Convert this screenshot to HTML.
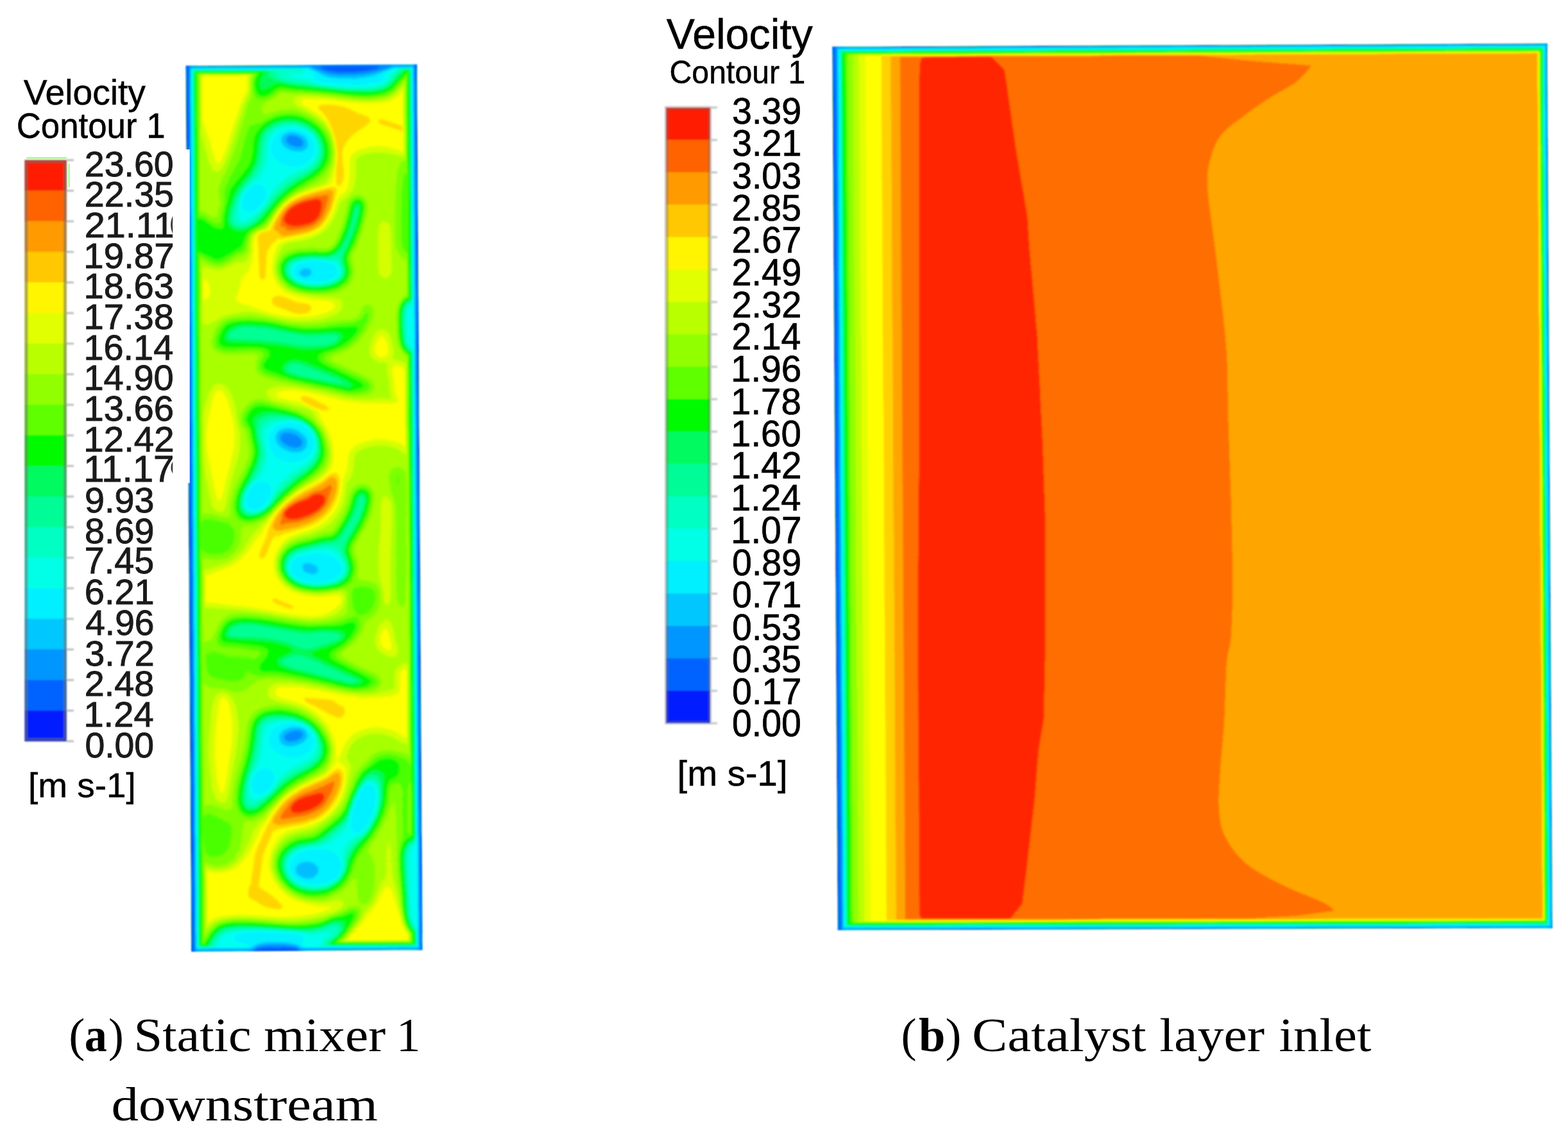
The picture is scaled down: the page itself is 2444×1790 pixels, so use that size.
<!DOCTYPE html>
<html lang="en"><head><meta charset="utf-8"><title>Velocity contours</title>
<style>
html,body{margin:0;padding:0;background:#fff;}
body{width:2444px;height:1790px;overflow:hidden;font-family:"Liberation Sans",sans-serif;}
svg{display:block;}
</style></head>
<body>
<svg width="2444" height="1790" viewBox="0 0 2444 1790">
<defs>
<clipPath id="lclip"><polygon points="289.3,102.3 650.3,100.2 658.8,1481.5 298.0,1484.0"/></clipPath>
<filter id="lcmap" filterUnits="userSpaceOnUse" x="260" y="70" width="430" height="1450" color-interpolation-filters="sRGB"><feComponentTransfer><feFuncR type="discrete" tableValues="0.0000 0.0000 0.0000 0.0000 0.0000 0.0000 0.0000 0.0000 0.0000 0.0000 0.2941 0.4902 0.6588 0.8314 1.0000 1.0000 1.0000 1.0000 1.0000"/><feFuncG type="discrete" tableValues="0.1176 0.3529 0.5490 0.7451 0.9490 1.0000 1.0000 1.0000 0.9882 0.9804 1.0000 1.0000 1.0000 1.0000 1.0000 0.8353 0.6471 0.4235 0.1412"/><feFuncB type="discrete" tableValues="1.0000 1.0000 1.0000 1.0000 1.0000 0.9490 0.7765 0.5882 0.3529 0.0000 0.0000 0.0000 0.0000 0.0000 0.0000 0.0000 0.0000 0.0000 0.0000"/></feComponentTransfer><feGaussianBlur stdDeviation="1.5"/></filter>
<filter id="ledge" filterUnits="userSpaceOnUse" x="260" y="70" width="430" height="1450" color-interpolation-filters="sRGB"><feGaussianBlur stdDeviation="1.1"/></filter>
<filter id="lb7" filterUnits="userSpaceOnUse" x="260" y="70" width="430" height="1450" color-interpolation-filters="sRGB"><feGaussianBlur stdDeviation="7"/></filter>
<filter id="lb8" filterUnits="userSpaceOnUse" x="260" y="70" width="430" height="1450" color-interpolation-filters="sRGB"><feGaussianBlur stdDeviation="8"/></filter>
<filter id="lb9" filterUnits="userSpaceOnUse" x="260" y="70" width="430" height="1450" color-interpolation-filters="sRGB"><feGaussianBlur stdDeviation="9"/></filter>
<filter id="lb11" filterUnits="userSpaceOnUse" x="260" y="70" width="430" height="1450" color-interpolation-filters="sRGB"><feGaussianBlur stdDeviation="11"/></filter>
<filter id="lb6" filterUnits="userSpaceOnUse" x="260" y="70" width="430" height="1450" color-interpolation-filters="sRGB"><feGaussianBlur stdDeviation="6"/></filter>
<filter id="lb4" filterUnits="userSpaceOnUse" x="260" y="70" width="430" height="1450" color-interpolation-filters="sRGB"><feGaussianBlur stdDeviation="4"/></filter>
<filter id="lb2_5" filterUnits="userSpaceOnUse" x="260" y="70" width="430" height="1450" color-interpolation-filters="sRGB"><feGaussianBlur stdDeviation="2.5"/></filter>
<filter id="lb3" filterUnits="userSpaceOnUse" x="260" y="70" width="430" height="1450" color-interpolation-filters="sRGB"><feGaussianBlur stdDeviation="3"/></filter>
<filter id="lb5" filterUnits="userSpaceOnUse" x="260" y="70" width="430" height="1450" color-interpolation-filters="sRGB"><feGaussianBlur stdDeviation="5"/></filter>
<filter id="lb10" filterUnits="userSpaceOnUse" x="260" y="70" width="430" height="1450" color-interpolation-filters="sRGB"><feGaussianBlur stdDeviation="10"/></filter>
<linearGradient id="lwl" gradientUnits="userSpaceOnUse" x1="298.00" y1="1484.00" x2="332.00" y2="1483.79"><stop offset="0.0000" stop-color="#0a0a0a"/><stop offset="0.1324" stop-color="#1a1a1a"/><stop offset="0.2500" stop-color="#3d3d3d"/><stop offset="0.3382" stop-color="#575757"/><stop offset="0.4265" stop-color="#787878"/><stop offset="0.5588" stop-color="#999999"/><stop offset="0.7353" stop-color="#b8b8b8"/><stop offset="0.9412" stop-color="#ffffff"/><stop offset="1.0000" stop-color="#ffffff"/></linearGradient>
<linearGradient id="lwt" gradientUnits="userSpaceOnUse" x1="289.30" y1="102.30" x2="289.43" y2="124.30"><stop offset="0.0000" stop-color="#1f1f1f"/><stop offset="0.1136" stop-color="#292929"/><stop offset="0.2455" stop-color="#3d3d3d"/><stop offset="0.3636" stop-color="#5c5c5c"/><stop offset="0.4545" stop-color="#787878"/><stop offset="0.5909" stop-color="#a1a1a1"/><stop offset="0.7727" stop-color="#c7c7c7"/><stop offset="1.0000" stop-color="#ffffff"/></linearGradient>
<linearGradient id="lwr" gradientUnits="userSpaceOnUse" x1="650.30" y1="100.20" x2="616.30" y2="100.41"><stop offset="0.0000" stop-color="#0a0a0a"/><stop offset="0.1029" stop-color="#1a1a1a"/><stop offset="0.2059" stop-color="#3d3d3d"/><stop offset="0.2941" stop-color="#575757"/><stop offset="0.3824" stop-color="#787878"/><stop offset="0.5000" stop-color="#999999"/><stop offset="0.6471" stop-color="#b8b8b8"/><stop offset="0.8235" stop-color="#ffffff"/><stop offset="1.0000" stop-color="#ffffff"/></linearGradient>
<linearGradient id="lwb" gradientUnits="userSpaceOnUse" x1="658.80" y1="1481.50" x2="658.65" y2="1459.50"><stop offset="0.0000" stop-color="#1f1f1f"/><stop offset="0.1136" stop-color="#292929"/><stop offset="0.2455" stop-color="#3d3d3d"/><stop offset="0.3636" stop-color="#5c5c5c"/><stop offset="0.4545" stop-color="#787878"/><stop offset="0.5909" stop-color="#a1a1a1"/><stop offset="0.7727" stop-color="#c7c7c7"/><stop offset="1.0000" stop-color="#ffffff"/></linearGradient>
<clipPath id="rclip"><polygon points="1297.0,72.5 2412.0,67.5 2420.0,1447.5 1305.5,1450.5"/></clipPath>
<filter id="rcmap" filterUnits="userSpaceOnUse" x="1270" y="40" width="1174" height="1440" color-interpolation-filters="sRGB"><feComponentTransfer><feFuncR type="discrete" tableValues="0.0000 0.0000 0.0000 0.0000 0.0000 0.0000 0.0000 0.0000 0.0000 0.0000 0.3725 0.5686 0.7255 0.8824 1.0000 1.0000 1.0000 1.0000 1.0000"/><feFuncG type="discrete" tableValues="0.1098 0.3922 0.5882 0.7843 0.9412 1.0000 1.0000 0.9882 0.9804 0.9804 1.0000 1.0000 1.0000 1.0000 1.0000 0.8235 0.6471 0.4314 0.1490"/><feFuncB type="discrete" tableValues="1.0000 1.0000 1.0000 1.0000 1.0000 0.9020 0.7647 0.5882 0.3725 0.0000 0.0000 0.0000 0.0000 0.0000 0.0000 0.0000 0.0000 0.0000 0.0000"/></feComponentTransfer><feGaussianBlur stdDeviation="1.3"/></filter>
<filter id="redge" filterUnits="userSpaceOnUse" x="1270" y="40" width="1174" height="1440" color-interpolation-filters="sRGB"><feGaussianBlur stdDeviation="1.1"/></filter>
<linearGradient id="rwl" gradientUnits="userSpaceOnUse" x1="1305.50" y1="1450.50" x2="1455.50" y2="1449.57"><stop offset="0.0000" stop-color="#0f0f0f"/><stop offset="0.0400" stop-color="#1c1c1c"/><stop offset="0.0533" stop-color="#292929"/><stop offset="0.0667" stop-color="#3d3d3d"/><stop offset="0.0867" stop-color="#575757"/><stop offset="0.1200" stop-color="#808080"/><stop offset="0.1733" stop-color="#999999"/><stop offset="0.2467" stop-color="#a8a8a8"/><stop offset="0.3067" stop-color="#b5b5b5"/><stop offset="0.3467" stop-color="#bcbcbc"/><stop offset="0.5067" stop-color="#c9c9c9"/><stop offset="0.6133" stop-color="#d7d7d7"/><stop offset="0.7000" stop-color="#e4e4e4"/><stop offset="0.8533" stop-color="#f1f1f1"/><stop offset="0.9000" stop-color="#ffffff"/><stop offset="1.0000" stop-color="#ffffff"/></linearGradient>
<linearGradient id="rwt" gradientUnits="userSpaceOnUse" x1="1297.00" y1="72.50" x2="1297.12" y2="98.50"><stop offset="0.0000" stop-color="#141414"/><stop offset="0.0962" stop-color="#292929"/><stop offset="0.1923" stop-color="#3d3d3d"/><stop offset="0.2885" stop-color="#5c5c5c"/><stop offset="0.3846" stop-color="#808080"/><stop offset="0.4808" stop-color="#a8a8a8"/><stop offset="0.5769" stop-color="#c9c9c9"/><stop offset="0.6538" stop-color="#e6e6e6"/><stop offset="0.7115" stop-color="#ffffff"/><stop offset="1.0000" stop-color="#ffffff"/></linearGradient>
<linearGradient id="rwr" gradientUnits="userSpaceOnUse" x1="2412.00" y1="67.50" x2="2386.00" y2="67.65"><stop offset="0.0000" stop-color="#141414"/><stop offset="0.0962" stop-color="#292929"/><stop offset="0.1923" stop-color="#3d3d3d"/><stop offset="0.2885" stop-color="#5c5c5c"/><stop offset="0.3846" stop-color="#808080"/><stop offset="0.4808" stop-color="#a8a8a8"/><stop offset="0.5769" stop-color="#c9c9c9"/><stop offset="0.6538" stop-color="#e6e6e6"/><stop offset="0.7115" stop-color="#ffffff"/><stop offset="1.0000" stop-color="#ffffff"/></linearGradient>
<linearGradient id="rwb" gradientUnits="userSpaceOnUse" x1="2420.00" y1="1447.50" x2="2419.93" y2="1421.50"><stop offset="0.0000" stop-color="#141414"/><stop offset="0.0962" stop-color="#292929"/><stop offset="0.1923" stop-color="#3d3d3d"/><stop offset="0.2885" stop-color="#5c5c5c"/><stop offset="0.3846" stop-color="#808080"/><stop offset="0.4808" stop-color="#a8a8a8"/><stop offset="0.5769" stop-color="#c9c9c9"/><stop offset="0.6538" stop-color="#e6e6e6"/><stop offset="0.7115" stop-color="#ffffff"/><stop offset="1.0000" stop-color="#ffffff"/></linearGradient>
<filter id="soft1" x="-5%" y="-5%" width="110%" height="110%"><feGaussianBlur stdDeviation="0.9"/></filter>
<clipPath id="fragclip"><rect x="262" y="320" width="7.3" height="440"/></clipPath>
</defs>
<rect width="2444" height="1790" fill="#fff"/>
<g filter="url(#ledge)"><g clip-path="url(#lclip)"><g filter="url(#lcmap)" style="isolation:isolate"><rect x="260" y="70" width="430" height="1450" fill="#acacac"/><g filter="url(#lb7)"><path d="M300.5,110.5C310.0,108.2 335.9,111.4 354.0,112.3C372.1,113.1 403.5,110.0 409.2,115.7C415.0,121.5 394.3,137.3 388.5,146.8C382.8,156.2 378.4,164.0 374.7,172.6C371.0,181.3 369.0,189.9 366.1,198.5C363.2,207.1 360.3,215.8 357.5,224.4C354.6,233.0 351.7,243.1 348.8,250.3C346.0,257.4 342.8,267.5 340.2,267.5C337.6,267.5 335.6,257.4 333.3,250.3C331.0,243.1 329.0,233.0 326.4,224.4C323.8,215.8 320.7,207.1 317.8,198.5C314.9,189.9 311.7,181.3 309.2,172.6C306.6,164.0 304.3,154.5 302.3,146.8C300.2,139.0 297.4,132.1 297.1,126.1C296.8,120.0 291.0,112.8 300.5,110.5Z" fill="#c6c6c6"/><path d="M461.0,151.9C465.8,148.2 492.6,149.6 509.3,150.2C525.9,150.8 543.8,155.1 561.0,155.4C578.3,155.7 599.0,159.1 612.8,151.9C626.6,144.7 637.5,107.4 643.8,112.3C650.1,117.1 650.1,159.7 650.7,181.3C651.3,202.8 653.6,233.0 647.3,241.6C640.9,250.3 622.8,235.0 612.8,233.0C602.7,231.0 595.5,229.3 586.9,229.6C578.3,229.8 567.6,232.4 561.0,234.7C554.4,237.0 549.5,237.9 547.2,243.4C544.9,248.8 547.8,259.2 547.2,267.5C546.6,275.8 546.3,286.8 543.8,293.4C541.2,300.0 536.6,307.8 531.7,307.2C526.8,306.6 515.9,299.4 514.4,289.9C513.0,280.4 522.2,262.6 523.1,250.3C523.9,237.9 522.5,225.5 519.6,215.8C516.7,206.0 512.4,198.8 505.8,191.6C499.2,184.4 487.4,179.2 479.9,172.6C472.5,166.0 456.1,155.7 461.0,151.9Z" fill="#c6c6c6"/></g><g filter="url(#lb8)"><path d="M388.5,151.9C392.0,149.9 404.0,152.8 405.8,160.6C407.5,168.3 401.7,183.6 398.9,198.5C396.0,213.5 392.5,235.9 388.5,250.3C384.5,264.6 379.9,274.7 374.7,284.8C369.5,294.8 362.9,307.8 357.5,310.6C352.0,313.5 342.5,309.2 341.9,302.0C341.4,294.8 349.7,279.0 354.0,267.5C358.3,256.0 363.8,244.5 367.8,233.0C371.8,221.5 375.3,208.6 378.2,198.5C381.0,188.4 383.3,180.4 385.1,172.6C386.8,164.9 385.1,153.9 388.5,151.9Z" fill="#929292"/></g><g filter="url(#lb7)"><path d="M395.4,115.7C399.1,111.1 410.1,110.0 416.1,112.3C422.1,114.6 429.9,123.8 431.6,129.5C433.4,135.3 430.8,142.7 426.5,146.8C422.1,150.8 411.2,154.8 405.8,153.7C400.3,152.5 395.4,146.2 393.7,139.9C392.0,133.5 391.7,120.3 395.4,115.7Z" fill="#777777"/></g><g filter="url(#lb9)"><path d="M302.3,333.1C307.7,326.2 318.9,340.0 328.1,346.9C337.3,353.8 347.4,369.3 357.5,374.5C367.5,379.6 383.3,375.6 388.5,377.9C393.7,380.2 404.0,386.5 388.5,388.3C373.0,390.0 309.7,397.5 295.4,388.3C281.0,379.1 296.8,340.0 302.3,333.1Z" fill="#777777"/></g><g filter="url(#lb8)"><path d="M623.1,267.5C626.3,245.9 635.5,238.8 640.4,258.9C645.2,279.0 655.6,366.7 652.4,388.3C649.3,409.8 626.3,408.4 621.4,388.3C616.5,368.1 619.9,289.1 623.1,267.5Z" fill="#8d8d8d"/></g><g filter="url(#lb9)"><path d="M419.6,101.9C454.1,98.7 596.9,98.2 630.0,101.9C663.1,105.6 621.4,118.3 617.9,124.3C614.5,130.4 614.5,134.7 609.3,138.1C604.1,141.6 594.9,143.7 586.9,145.0C578.8,146.3 569.6,146.2 561.0,145.9C552.4,145.6 543.8,144.2 535.1,143.3C526.5,142.4 517.9,141.1 509.3,140.2C500.6,139.3 492.0,138.9 483.4,138.1C474.8,137.3 465.3,136.5 457.5,135.5C449.7,134.5 442.6,134.5 436.8,132.1C431.1,129.6 425.9,125.9 423.0,120.9C420.1,115.8 385.1,105.1 419.6,101.9Z" fill="#4c4c4c"/></g><g filter="url(#lb11)"><path d="M404.0,207.1C406.6,201.7 410.6,197.1 416.1,193.3C421.6,189.6 429.6,186.3 436.8,184.7C444.0,183.1 452.3,183.0 459.2,183.8C466.1,184.7 472.2,186.9 478.2,189.9C484.2,192.9 490.9,197.1 495.5,202.0C500.1,206.8 503.5,212.9 505.8,219.2C508.1,225.5 509.5,233.6 509.3,239.9C509.0,246.2 507.0,252.1 504.1,257.2C501.2,262.2 497.2,266.1 492.0,270.1C486.8,274.1 479.1,277.7 473.0,281.3C467.0,284.9 461.0,287.9 455.8,291.7C450.6,295.4 446.6,299.1 442.0,303.7C437.4,308.3 432.8,313.8 428.2,319.3C423.6,324.7 419.0,331.0 414.4,336.5C409.8,342.0 405.2,347.4 400.6,352.0C396.0,356.6 392.2,361.2 386.8,364.1C381.3,367.0 373.0,369.9 367.8,369.3C362.6,368.7 358.3,365.5 355.7,360.7C353.1,355.8 352.0,346.9 352.3,340.0C352.6,333.1 354.9,326.2 357.5,319.3C360.0,312.4 364.1,304.9 367.8,298.6C371.5,292.2 375.9,287.1 379.9,281.3C383.9,275.6 388.8,269.8 392.0,264.1C395.1,258.3 397.4,253.1 398.9,246.8C400.3,240.5 399.7,232.7 400.6,226.1C401.4,219.5 401.4,212.6 404.0,207.1Z" fill="#4c4c4c"/></g><g filter="url(#lb6)"><ellipse cx="457.5" cy="229.6" rx="34.5" ry="29.3" transform="rotate(0 457.5 229.6)" fill="#393939"/><ellipse cx="395.4" cy="308.9" rx="16.4" ry="24.2" transform="rotate(35 395.4 308.9)" fill="#393939"/><ellipse cx="543.8" cy="120.9" rx="58.7" ry="12.1" transform="rotate(0 543.8 120.9)" fill="#393939"/></g><g filter="url(#lb4)"><ellipse cx="459.2" cy="220.1" rx="18.1" ry="10.4" transform="rotate(20 459.2 220.1)" fill="#222222"/><path d="M474.8,98.5C496.3,96.2 607.0,97.0 630.0,98.5C653.0,99.9 621.4,104.5 612.8,107.1C604.1,109.7 591.2,112.4 578.3,114.0C565.3,115.6 548.1,116.9 535.1,116.6C522.2,116.3 510.7,115.3 500.6,112.3C490.6,109.2 453.2,100.8 474.8,98.5Z" fill="#141414"/></g><g filter="url(#lb2_5)"><path d="M495.5,167.5C496.3,165.4 502.6,164.0 509.3,164.0C515.9,164.0 527.1,165.2 535.1,167.5C543.2,169.8 550.7,174.8 557.6,177.8C564.5,180.8 574.5,182.7 576.5,185.6C578.5,188.4 573.4,191.7 569.6,195.1C565.9,198.4 559.0,201.4 554.1,205.4C549.2,209.4 543.8,214.6 540.3,219.2C536.9,223.8 534.6,227.8 533.4,233.0C532.3,238.2 533.1,244.5 533.4,250.3C533.7,256.0 535.1,262.3 535.1,267.5C535.1,272.7 534.8,277.6 533.4,281.3C532.0,285.0 528.2,292.2 526.5,289.9C524.8,287.6 523.3,275.6 523.1,267.5C522.8,259.5 525.1,250.3 524.8,241.6C524.5,233.0 523.3,224.1 521.3,215.8C519.3,207.4 515.6,198.2 512.7,191.6C509.8,185.0 507.0,180.1 504.1,176.1C501.2,172.1 494.6,169.5 495.5,167.5Z" fill="#d2d2d2"/><path d="M592.1,189.0C595.5,190.2 606.1,193.3 612.8,195.9C619.4,198.5 628.0,199.5 631.7,204.5C635.5,209.6 634.6,222.5 635.2,226.1" fill="none" stroke="#d2d2d2" stroke-width="5.2" stroke-linecap="round" stroke-linejoin="round"/></g><g filter="url(#lb6)"><path d="M416.1,374.5C414.1,369.3 423.6,350.9 428.2,341.7C432.8,332.5 437.7,325.1 443.7,319.3C449.7,313.4 457.5,309.6 464.4,306.3C471.3,303.0 477.9,301.6 485.1,299.4C492.3,297.3 501.5,294.4 507.5,293.4C513.6,292.4 519.0,290.2 521.3,293.4C523.6,296.5 522.5,305.7 521.3,312.4C520.2,319.0 517.6,326.4 514.4,333.1C511.3,339.7 507.2,347.1 502.4,352.0C497.5,356.9 491.4,359.8 485.1,362.4C478.8,365.0 471.9,365.8 464.4,367.6C456.9,369.3 448.3,371.6 440.3,372.7C432.2,373.9 418.1,379.6 416.1,374.5Z" fill="#e6e6e6"/></g><g filter="url(#lb3)"><path d="M443.7,338.2C445.0,334.5 449.2,328.7 453.2,325.3C457.2,321.8 462.8,319.5 467.9,317.5C472.9,315.5 478.1,314.2 483.4,313.2C488.7,312.2 496.9,309.9 499.8,311.5C502.6,313.1 501.2,318.5 500.6,322.7C500.1,326.9 498.6,332.6 496.3,336.5C494.0,340.4 490.7,343.7 486.8,346.0C482.9,348.3 477.9,349.3 473.0,350.3C468.1,351.3 462.1,352.5 457.5,352.0C452.9,351.6 447.7,350.0 445.4,347.7C443.1,345.4 442.4,342.0 443.7,338.2Z" fill="#ffffff"/></g><g filter="url(#lb9)"><path d="M309.6,421.4C321.2,407.9 364.8,410.2 379.2,413.0C393.6,415.8 395.0,427.0 395.9,438.1C396.9,449.2 392.2,470.6 384.8,479.9C377.4,489.1 363.9,491.5 351.4,493.8C338.9,496.1 316.6,505.9 309.6,493.8C302.7,481.7 298.0,434.8 309.6,421.4Z" fill="#bababa"/></g><g filter="url(#lb7)"><path d="M388.5,363.1C396.0,357.6 429.6,359.1 436.8,363.1C444.0,367.1 433.1,378.9 431.6,387.3C430.2,395.6 427.9,404.5 428.2,413.1C428.5,421.8 429.9,432.4 433.4,439.0C436.8,445.6 442.0,449.4 448.9,452.8C455.8,456.3 464.7,457.4 474.8,459.7C484.8,462.0 500.1,464.0 509.3,466.6C518.5,469.2 529.1,471.8 530.0,475.2C530.8,478.7 520.8,484.1 514.4,487.3C508.1,490.5 500.1,492.5 492.0,494.2C484.0,495.9 474.8,497.4 466.1,497.7C457.5,497.9 448.9,497.4 440.3,495.9C431.6,494.5 423.0,492.2 414.4,489.0C405.8,485.9 395.1,480.7 388.5,477.0C381.9,473.2 375.9,471.5 374.7,466.6C373.6,461.7 379.3,455.1 381.6,447.6C383.9,440.2 386.8,430.4 388.5,421.8C390.2,413.1 392.0,405.7 392.0,395.9C392.0,386.1 381.0,368.6 388.5,363.1Z" fill="#c6c6c6"/></g><g filter="url(#lb5)"><path d="M305.7,435.6C308.0,432.1 316.6,438.4 319.5,442.5C322.4,446.5 325.3,456.3 323.0,459.7C320.7,463.2 308.6,467.2 305.7,463.2C302.8,459.1 303.4,439.0 305.7,435.6Z" fill="#c6c6c6"/></g><g filter="url(#lb6)"><path d="M600.7,352.7C600.7,358.5 600.7,375.2 600.7,387.3C600.7,399.3 600.7,418.9 600.7,425.2" fill="none" stroke="#c6c6c6" stroke-width="8.6" stroke-linecap="round" stroke-linejoin="round"/><path d="M595.5,516.6C598.7,516.6 602.1,527.8 604.1,533.9C606.1,539.9 609.0,548.5 607.6,552.9C606.1,557.2 599.8,560.0 595.5,559.8C591.2,559.5 583.4,555.4 581.7,551.1C580.0,546.8 582.9,539.6 585.2,533.9C587.5,528.1 592.3,516.6 595.5,516.6Z" fill="#c6c6c6"/><path d="M609.3,570.1C611.0,565.8 618.5,565.8 623.1,568.4C627.7,571.0 634.3,578.4 636.9,585.6C639.5,592.8 639.8,604.3 638.6,611.5C637.5,618.7 633.7,627.3 630.0,628.8C626.3,630.2 619.1,625.9 616.2,620.1C613.3,614.4 613.9,602.6 612.8,594.3C611.6,585.9 607.6,574.4 609.3,570.1Z" fill="#c6c6c6"/></g><g filter="url(#lb7)"><path d="M423.0,611.5C428.8,609.2 446.0,606.3 457.5,606.3C469.0,606.3 480.5,609.2 492.0,611.5C503.5,613.8 515.0,617.3 526.5,620.1C538.0,623.0 549.5,626.7 561.0,628.8C572.5,630.8 582.6,631.6 595.5,632.2C608.4,632.8 631.4,627.0 638.6,632.2C645.8,637.4 655.9,658.1 638.6,663.3C621.4,668.4 555.3,666.1 535.1,663.3C515.0,660.4 526.5,651.2 517.9,646.0C509.3,640.8 494.9,635.7 483.4,632.2C471.9,628.8 458.9,627.3 448.9,625.3C438.8,623.3 427.3,622.4 423.0,620.1C418.7,617.8 417.3,613.8 423.0,611.5Z" fill="#c6c6c6"/></g><g filter="url(#lb6)"><path d="M341.9,615.0C341.9,623.0 341.9,655.2 341.9,663.3" fill="none" stroke="#c6c6c6" stroke-width="6.9" stroke-linecap="round" stroke-linejoin="round"/></g><g filter="url(#lb8)"><path d="M302.3,359.6C316.1,354.2 372.4,356.2 385.1,359.6C397.7,363.1 381.3,374.6 378.2,380.4C375.0,386.1 369.8,390.1 366.1,394.2C362.3,398.2 359.8,401.1 355.7,404.5C351.7,408.0 346.8,414.1 341.9,414.9C337.0,415.6 331.0,411.7 326.4,408.8C321.8,405.9 318.4,400.3 314.3,397.6C310.3,394.9 304.3,398.8 302.3,392.4C300.2,386.1 288.5,365.1 302.3,359.6Z" fill="#808080"/></g><g filter="url(#lb7)"><path d="M333.3,535.6C333.9,530.1 338.5,517.5 341.9,511.5C345.4,505.4 346.2,501.7 354.0,499.4C361.8,497.1 377.0,497.4 388.5,497.7C400.0,497.9 411.5,499.4 423.0,501.1C434.5,502.8 446.0,506.6 457.5,508.0C469.0,509.4 480.5,510.3 492.0,509.7C503.5,509.2 515.0,506.3 526.5,504.6C538.0,502.8 553.5,504.6 561.0,499.4C568.5,494.2 568.5,474.9 571.4,473.5C574.2,472.1 580.0,482.7 578.3,490.8C576.5,498.8 566.8,513.8 561.0,521.8C555.3,529.9 550.9,534.5 543.8,539.1C536.6,543.7 526.5,546.5 517.9,549.4C509.3,552.3 502.1,555.7 492.0,556.3C481.9,556.9 469.0,554.0 457.5,552.9C446.0,551.7 433.1,550.6 423.0,549.4C412.9,548.3 408.6,546.2 397.1,546.0C385.6,545.7 363.8,548.0 354.0,547.7C344.2,547.4 341.9,546.2 338.5,544.2C335.0,542.2 332.7,541.1 333.3,535.6Z" fill="#808080"/><path d="M402.3,577.0C401.4,572.4 404.3,560.9 409.2,556.3C414.1,551.7 423.6,550.0 431.6,549.4C439.7,548.8 447.4,551.7 457.5,552.9C467.6,554.0 481.9,553.7 492.0,556.3C502.1,558.9 509.3,564.4 517.9,568.4C526.5,572.4 535.1,576.4 543.8,580.5C552.4,584.5 563.3,588.8 569.6,592.5C576.0,596.3 581.7,599.7 581.7,602.9C581.7,606.0 576.0,610.1 569.6,611.5C563.3,612.9 553.8,612.7 543.8,611.5C533.7,610.4 520.8,606.9 509.3,604.6C497.8,602.3 486.3,600.0 474.8,597.7C463.3,595.4 450.3,593.1 440.3,590.8C430.2,588.5 420.7,586.2 414.4,583.9C408.1,581.6 403.2,581.6 402.3,577.0Z" fill="#808080"/><path d="M381.6,663.3C368.1,658.1 386.2,638.2 390.2,632.2C394.3,626.2 400.3,627.0 405.8,627.0C411.2,627.0 417.3,630.2 423.0,632.2C428.8,634.2 434.5,636.8 440.3,639.1C446.0,641.4 452.3,642.0 457.5,646.0C462.7,650.0 484.0,660.4 471.3,663.3C458.7,666.1 395.1,668.4 381.6,663.3Z" fill="#808080"/></g><g filter="url(#lb5)"><path d="M350.6,530.4C348.5,527.3 354.0,517.2 359.2,513.2C364.4,509.2 372.4,507.1 381.6,506.3C390.8,505.4 404.6,506.9 414.4,508.0C424.2,509.2 431.6,511.5 440.3,513.2C448.9,514.9 457.5,517.2 466.1,518.4C474.8,519.5 483.4,520.1 492.0,520.1C500.6,520.1 511.0,518.1 517.9,518.4C524.8,518.6 532.0,519.2 533.4,521.8C534.8,524.4 530.5,530.7 526.5,533.9C522.5,537.0 517.9,539.3 509.3,540.8C500.6,542.2 486.3,543.1 474.8,542.5C463.3,541.9 451.8,538.8 440.3,537.3C428.8,535.9 417.3,534.7 405.8,533.9C394.3,533.0 380.5,532.7 371.3,532.2C362.1,531.6 352.6,533.6 350.6,530.4Z" fill="#656565"/><path d="M440.3,575.3C440.3,571.5 448.3,564.6 454.1,563.2C459.8,561.8 467.0,564.4 474.8,566.7C482.5,569.0 492.0,573.6 500.6,577.0C509.3,580.5 518.5,583.6 526.5,587.4C534.6,591.1 545.5,596.3 548.9,599.4C552.4,602.6 550.9,606.0 547.2,606.3C543.5,606.6 534.3,602.9 526.5,601.2C518.7,599.4 509.3,597.7 500.6,596.0C492.0,594.3 482.5,592.5 474.8,590.8C467.0,589.1 459.8,588.2 454.1,585.6C448.3,583.0 440.3,579.0 440.3,575.3Z" fill="#656565"/></g><g filter="url(#lb6)"><path d="M628.3,473.5C633.2,466.6 649.8,453.7 654.2,466.6C658.5,479.5 658.2,538.5 654.2,551.1C650.1,563.8 634.9,549.7 630.0,542.5C625.1,535.3 625.1,519.5 624.8,508.0C624.5,496.5 623.4,480.4 628.3,473.5Z" fill="#4c4c4c"/></g><g filter="url(#lb7)"><path d="M557.6,318.2C556.7,322.6 554.7,335.5 552.4,344.1C550.1,352.7 546.9,362.2 543.8,370.0C540.6,377.8 536.9,385.0 533.4,390.7C530.0,396.5 524.8,402.2 523.1,404.5" fill="none" stroke="#5a5a5a" stroke-width="17.3" stroke-linecap="round" stroke-linejoin="round"/></g><g filter="url(#lb9)"><path d="M440.3,411.4C442.3,407.4 447.2,403.4 452.3,401.1C457.5,398.8 463.3,398.2 471.3,397.6C479.4,397.0 491.4,397.0 500.6,397.6C509.8,398.2 519.9,398.5 526.5,401.1C533.1,403.6 537.7,408.8 540.3,413.1C542.9,417.4 542.9,422.6 542.0,426.9C541.2,431.2 539.2,435.7 535.1,439.0C531.1,442.3 525.1,444.9 517.9,446.8C510.7,448.6 500.6,450.2 492.0,450.2C483.4,450.2 473.3,448.8 466.1,446.8C458.9,444.8 453.2,441.7 448.9,438.1C444.6,434.5 441.7,429.7 440.3,425.2C438.8,420.7 438.2,415.4 440.3,411.4Z" fill="#4c4c4c"/></g><g filter="url(#lb6)"><ellipse cx="492.0" cy="423.5" rx="36.2" ry="18.1" transform="rotate(0 492.0 423.5)" fill="#393939"/></g><g filter="url(#lb3)"><ellipse cx="475.6" cy="425.2" rx="9.5" ry="5.2" transform="rotate(-10 475.6 425.2)" fill="#2f2f2f"/></g><g filter="url(#lb2_5)"><path d="M404.0,363.1C409.2,359.1 431.9,360.2 435.1,363.1C438.2,366.0 426.3,375.5 423.0,380.4C419.7,385.2 416.8,387.0 415.2,392.4C413.7,397.9 414.1,406.2 413.5,413.1C412.9,420.0 412.9,430.4 411.8,433.8C410.6,437.3 407.8,437.3 406.6,433.8C405.5,430.4 405.3,420.9 404.9,413.1C404.5,405.4 404.2,395.6 404.0,387.3C403.9,378.9 398.9,367.1 404.0,363.1Z" fill="#d2d2d2"/><path d="M424.7,466.6C426.2,464.7 431.1,462.3 435.1,462.3C439.1,462.3 444.6,465.0 448.9,466.6C453.2,468.2 455.2,470.1 461.0,471.8C466.7,473.5 480.2,474.4 483.4,477.0C486.5,479.5 483.1,485.3 479.9,487.3C476.8,489.3 469.3,489.6 464.4,489.0C459.5,488.5 455.2,485.6 450.6,483.9C446.0,482.1 440.8,480.4 436.8,478.7C432.8,477.0 428.5,475.5 426.5,473.5C424.4,471.5 423.3,468.5 424.7,466.6Z" fill="#d2d2d2"/><path d="M467.9,620.1C468.4,618.4 472.7,617.0 478.2,618.4C483.7,619.8 494.0,625.6 500.6,628.8C507.2,631.9 512.7,633.9 517.9,637.4C523.1,640.8 529.1,645.1 531.7,649.5C534.3,653.8 537.1,663.8 533.4,663.3C529.7,662.7 516.2,650.3 509.3,646.0C502.4,641.7 497.8,640.3 492.0,637.4C486.3,634.5 478.8,631.6 474.8,628.8C470.7,625.9 467.3,621.9 467.9,620.1Z" fill="#d2d2d2"/></g><g filter="url(#lb7)"><path d="M341.9,601.9C345.4,602.7 350.6,611.9 354.0,619.1C357.5,626.3 360.3,636.4 362.6,645.0C364.9,653.6 367.2,662.3 367.8,670.9C368.4,679.5 367.2,688.1 366.1,696.8C364.9,705.4 362.9,714.0 360.9,722.6C358.9,731.3 356.0,739.9 354.0,748.5C352.0,757.1 350.3,765.8 348.8,774.4C347.4,783.0 346.2,794.2 345.4,800.3C344.5,806.3 344.8,812.0 343.7,810.6C342.5,809.2 340.2,799.1 338.5,791.6C336.8,784.2 335.0,774.4 333.3,765.8C331.6,757.1 329.9,748.5 328.1,739.9C326.4,731.3 324.4,722.6 323.0,714.0C321.5,705.4 319.8,696.8 319.5,688.1C319.2,679.5 320.1,670.9 321.2,662.3C322.4,653.6 324.4,644.4 326.4,636.4C328.4,628.3 330.7,619.7 333.3,613.9C335.9,608.2 338.5,601.0 341.9,601.9Z" fill="#c6c6c6"/><path d="M502.4,636.4C525.1,630.6 620.2,625.4 643.8,636.4C667.4,647.3 647.5,692.7 643.8,701.9C640.1,711.1 629.4,694.2 621.4,691.6C613.3,689.0 604.1,686.7 595.5,686.4C586.9,686.1 577.7,687.3 569.6,689.9C561.6,692.4 551.5,696.5 547.2,701.9C542.9,707.4 544.9,716.0 543.8,722.6C542.6,729.2 542.6,736.7 540.3,741.6C538.0,746.5 534.6,749.7 530.0,752.0C525.4,754.3 516.2,757.1 512.7,755.4C509.3,753.7 508.7,747.1 509.3,741.6C509.8,736.1 515.3,730.1 516.2,722.6C517.0,715.2 515.9,705.4 514.4,696.8C513.0,688.1 509.5,680.9 507.5,670.9C505.5,660.8 479.6,642.1 502.4,636.4Z" fill="#c6c6c6"/><path d="M309.2,903.8C313.8,895.7 327.8,894.3 336.8,890.0C345.7,885.6 355.2,882.5 362.6,877.9C370.1,873.3 376.1,868.1 381.6,862.4C387.1,856.6 390.8,849.7 395.4,843.4C400.0,837.1 405.2,831.0 409.2,824.4C413.2,817.8 415.5,810.0 419.6,803.7C423.6,797.4 428.2,791.6 433.4,786.5C438.5,781.3 444.3,777.0 450.6,772.7C456.9,768.3 464.4,764.3 471.3,760.6C478.2,756.8 485.7,753.4 492.0,750.2C498.3,747.1 502.9,741.3 509.3,741.6C515.6,741.9 526.2,746.5 530.0,752.0C533.7,757.4 532.5,767.5 531.7,774.4C530.8,781.3 527.9,787.6 524.8,793.4C521.6,799.1 517.3,804.3 512.7,808.9C508.1,813.5 502.9,817.5 497.2,821.0C491.4,824.4 484.5,827.3 478.2,829.6C471.9,831.9 464.7,832.2 459.2,834.8C453.8,837.3 449.2,840.5 445.4,845.1C441.7,849.7 438.8,855.5 436.8,862.4C434.8,869.3 432.5,879.6 433.4,886.5C434.2,893.4 437.7,898.3 442.0,903.8C446.3,909.2 453.5,915.3 459.2,919.3C465.0,923.3 473.6,924.7 476.5,927.9C479.4,931.1 504.4,936.5 476.5,938.3C448.6,940.0 337.0,944.0 309.2,938.3C281.3,932.5 304.6,911.8 309.2,903.8Z" fill="#c6c6c6"/></g><g filter="url(#lb6)"><path d="M604.1,779.6C604.1,785.9 604.7,802.6 604.1,817.5C603.6,832.5 601.3,849.1 600.7,869.3C600.1,889.4 600.7,926.8 600.7,938.3" fill="none" stroke="#c6c6c6" stroke-width="7.8" stroke-linecap="round" stroke-linejoin="round"/><path d="M310.9,826.1C312.9,822.4 318.9,817.5 323.0,817.5C327.0,817.5 332.2,821.8 335.0,826.1C337.9,830.4 340.2,838.2 340.2,843.4C340.2,848.6 337.3,855.2 335.0,857.2C332.7,859.2 329.3,857.8 326.4,855.5C323.5,853.2 320.4,846.0 317.8,843.4C315.2,840.8 312.0,842.8 310.9,839.9C309.7,837.1 308.9,829.9 310.9,826.1Z" fill="#808080"/></g><g filter="url(#lb8)"><path d="M307.4,808.9C312.3,799.7 326.7,804.0 336.8,805.4C346.8,806.9 362.1,811.2 367.8,817.5C373.6,823.8 373.0,835.3 371.3,843.4C369.5,851.4 363.8,861.5 357.5,865.8C351.1,870.1 341.6,870.1 333.3,869.3C325.0,868.4 311.7,870.7 307.4,860.6C303.1,850.6 302.5,818.1 307.4,808.9Z" fill="#8d8d8d"/><path d="M609.3,734.7C611.0,729.0 619.7,729.0 623.1,731.3C626.6,733.6 628.9,714.0 630.0,748.5C631.2,783.0 631.4,906.6 630.0,938.3C628.6,969.9 623.1,961.3 621.4,938.3C619.7,915.3 621.1,829.0 619.7,800.3C618.2,771.5 614.5,776.7 612.8,765.8C611.0,754.8 607.6,740.5 609.3,734.7Z" fill="#8d8d8d"/></g><g filter="url(#lb10)"><path d="M395.4,665.7C396.8,660.5 401.2,656.5 405.8,653.6C410.4,650.8 415.8,649.0 423.0,648.5C430.2,647.9 440.3,648.5 448.9,650.2C457.5,651.9 467.6,654.8 474.8,658.8C481.9,662.8 487.7,668.6 492.0,674.3C496.3,680.1 498.9,687.3 500.6,693.3C502.4,699.3 503.2,705.4 502.4,710.6C501.5,715.7 498.6,720.0 495.5,724.4C492.3,728.7 488.3,732.4 483.4,736.4C478.5,740.5 471.6,744.2 466.1,748.5C460.7,752.8 455.5,757.7 450.6,762.3C445.7,766.9 441.4,771.5 436.8,776.1C432.2,780.7 427.6,785.9 423.0,789.9C418.4,793.9 414.4,797.4 409.2,800.3C404.0,803.1 397.1,805.7 392.0,807.2C386.8,808.6 381.6,810.0 378.2,808.9C374.7,807.7 372.4,804.6 371.3,800.3C370.1,795.9 370.1,789.3 371.3,783.0C372.4,776.7 375.3,769.2 378.2,762.3C381.0,755.4 385.3,748.2 388.5,741.6C391.7,735.0 394.8,729.0 397.1,722.6C399.4,716.3 402.3,710.0 402.3,703.7C402.3,697.3 398.3,691.0 397.1,684.7C396.0,678.4 394.0,670.9 395.4,665.7Z" fill="#4c4c4c"/></g><g filter="url(#lb6)"><ellipse cx="455.8" cy="688.1" rx="37.1" ry="31.9" transform="rotate(0 455.8 688.1)" fill="#393939"/><ellipse cx="402.3" cy="774.4" rx="19.0" ry="25.9" transform="rotate(35 402.3 774.4)" fill="#393939"/></g><g filter="url(#lb4)"><ellipse cx="454.1" cy="686.4" rx="21.6" ry="12.9" transform="rotate(20 454.1 686.4)" fill="#222222"/></g><g filter="url(#lb8)"><path d="M564.5,772.7C563.3,777.3 561.0,791.3 557.6,800.3C554.1,809.2 548.4,818.1 543.8,826.1C539.2,834.2 532.3,844.8 530.0,848.6" fill="none" stroke="#575757" stroke-width="22.4" stroke-linecap="round" stroke-linejoin="round"/></g><g filter="url(#lb9)"><path d="M440.3,874.4C441.4,869.8 443.1,864.4 447.2,860.6C451.2,856.9 457.5,854.3 464.4,852.0C471.3,849.7 481.1,848.8 488.6,846.8C496.0,844.8 502.9,839.6 509.3,839.9C515.6,840.2 521.3,844.8 526.5,848.6C531.7,852.3 536.9,857.5 540.3,862.4C543.8,867.2 546.1,872.4 547.2,877.9C548.4,883.3 548.9,890.0 547.2,895.1C545.5,900.3 541.7,905.5 536.9,908.9C532.0,912.4 525.4,914.4 517.9,915.8C510.4,917.3 500.6,918.1 492.0,917.6C483.4,917.0 473.3,915.0 466.1,912.4C458.9,909.8 453.2,906.1 448.9,902.0C444.6,898.0 441.7,892.8 440.3,888.2C438.8,883.6 439.1,879.0 440.3,874.4Z" fill="#4c4c4c"/></g><g filter="url(#lb6)"><ellipse cx="492.0" cy="886.5" rx="42.3" ry="23.3" transform="rotate(0 492.0 886.5)" fill="#393939"/></g><g filter="url(#lb3)"><ellipse cx="483.4" cy="886.5" rx="12.1" ry="6.0" transform="rotate(20 483.4 886.5)" fill="#2f2f2f"/></g><g filter="url(#lb6)"><path d="M423.0,831.3C422.1,828.4 425.3,817.2 428.2,810.6C431.1,804.0 435.4,797.1 440.3,791.6C445.1,786.2 451.8,781.9 457.5,777.8C463.3,773.8 469.0,770.6 474.8,767.5C480.5,764.3 486.5,761.7 492.0,758.9C497.5,756.0 503.5,753.4 507.5,750.2C511.6,747.1 513.0,740.2 516.2,739.9C519.3,739.6 525.1,744.2 526.5,748.5C527.9,752.8 526.2,760.0 524.8,765.8C523.3,771.5 520.8,777.5 517.9,783.0C515.0,788.5 511.8,793.9 507.5,798.5C503.2,803.1 497.8,807.2 492.0,810.6C486.3,814.1 479.9,816.9 473.0,819.2C466.1,821.5 457.2,823.0 450.6,824.4C444.0,825.8 438.0,826.7 433.4,827.9C428.8,829.0 423.9,834.2 423.0,831.3Z" fill="#e6e6e6"/></g><g filter="url(#lb3)"><path d="M424.7,827.9C423.0,831.9 417.1,845.4 414.4,852.0C411.6,858.6 409.3,864.9 408.3,867.5" fill="none" stroke="#d2d2d2" stroke-width="6.9" stroke-linecap="round" stroke-linejoin="round"/><path d="M442.8,801.1C443.3,798.4 447.0,794.5 450.6,791.6C454.2,788.8 459.5,786.0 464.4,783.9C469.3,781.7 475.9,780.7 479.9,778.7C484.0,776.7 484.7,772.9 488.6,771.8C492.4,770.6 500.2,770.5 503.2,771.8C506.2,773.1 507.0,776.7 506.7,779.6C506.4,782.4 504.1,786.0 501.5,789.0C498.9,792.1 495.3,795.1 491.1,797.7C487.0,800.3 481.5,802.7 476.5,804.6C471.4,806.4 465.7,808.3 461.0,808.9C456.2,809.5 451.0,809.3 448.0,808.0C445.0,806.7 442.4,803.8 442.8,801.1Z" fill="#ffffff"/></g><g filter="url(#lb7)"><path d="M309.2,909.6C319.5,906.2 349.4,907.1 371.3,909.6C393.1,912.2 420.1,922.3 440.3,925.2C460.4,928.1 474.2,927.2 492.0,926.9C509.8,926.6 540.0,921.2 547.2,923.5C554.4,925.8 540.6,935.2 535.1,940.7C529.7,946.2 521.6,952.3 514.4,956.2C507.2,960.1 501.5,963.0 492.0,964.0C482.5,965.0 469.0,963.7 457.5,962.3C446.0,960.8 434.5,957.8 423.0,955.4C411.5,952.9 400.0,950.0 388.5,947.6C377.0,945.2 364.1,943.3 354.0,940.7C343.9,938.1 335.6,933.8 328.1,932.1C320.7,930.4 312.3,934.1 309.2,930.4C306.0,926.6 298.8,913.1 309.2,909.6Z" fill="#c6c6c6"/></g><g filter="url(#lb6)"><path d="M602.4,968.3C604.7,968.9 605.9,982.1 607.6,989.0C609.3,995.9 611.3,1004.5 612.8,1009.7C614.2,1014.9 618.5,1019.5 616.2,1020.1C613.9,1020.6 603.3,1016.0 599.0,1013.2C594.6,1010.3 591.2,1007.4 590.3,1002.8C589.5,998.2 591.8,991.3 593.8,985.6C595.8,979.8 600.1,967.7 602.4,968.3Z" fill="#c6c6c6"/><path d="M623.1,1044.2C625.7,1038.2 635.8,1038.2 638.6,1044.2C641.5,1050.2 642.9,1074.4 640.4,1080.4C637.8,1086.5 626.0,1086.5 623.1,1080.4C620.2,1074.4 620.5,1050.2 623.1,1044.2Z" fill="#c6c6c6"/></g><g filter="url(#lb7)"><path d="M347.1,1068.4C349.7,1069.8 354.7,1082.7 357.5,1092.5C360.2,1102.3 362.6,1115.5 363.5,1127.0C364.4,1138.5 363.6,1150.0 362.6,1161.5C361.6,1173.0 359.2,1184.5 357.5,1196.0C355.7,1207.5 354.0,1220.4 352.3,1230.5C350.6,1240.6 348.8,1253.5 347.1,1256.4C345.4,1259.3 343.7,1254.4 341.9,1247.8C340.2,1241.1 338.2,1228.2 336.8,1216.7C335.3,1205.2 333.7,1190.8 333.3,1178.8C332.9,1166.7 333.4,1155.8 334.2,1144.3C334.9,1132.8 336.3,1119.8 337.6,1109.8C338.9,1099.7 340.3,1090.8 341.9,1083.9C343.5,1077.0 344.5,1066.9 347.1,1068.4Z" fill="#c6c6c6"/><path d="M426.5,1071.8C431.6,1068.9 446.6,1068.4 457.5,1068.4C468.4,1068.4 480.5,1070.1 492.0,1071.8C503.5,1073.5 515.0,1076.7 526.5,1078.7C538.0,1080.7 549.5,1082.7 561.0,1083.9C572.5,1085.0 581.7,1085.6 595.5,1085.6C609.3,1085.6 635.8,1072.7 643.8,1083.9C651.9,1095.1 649.0,1143.4 643.8,1152.9C638.6,1162.4 622.2,1143.7 612.8,1140.8C603.3,1137.9 595.5,1135.6 586.9,1135.6C578.3,1135.6 568.2,1137.9 561.0,1140.8C553.8,1143.7 548.1,1148.0 543.8,1152.9C539.4,1157.8 537.7,1162.9 535.1,1170.1C532.5,1177.3 529.7,1188.2 528.2,1196.0C526.8,1203.8 528.5,1213.3 526.5,1216.7C524.5,1220.2 517.6,1223.0 516.2,1216.7C514.7,1210.4 518.2,1189.4 517.9,1178.8C517.6,1168.1 516.4,1160.9 514.4,1152.9C512.4,1144.8 509.5,1136.8 505.8,1130.5C502.1,1124.1 497.2,1119.5 492.0,1114.9C486.8,1110.3 481.9,1106.3 474.8,1102.9C467.6,1099.4 456.9,1097.1 448.9,1094.2C440.8,1091.4 430.2,1089.3 426.5,1085.6C422.7,1081.9 421.3,1074.7 426.5,1071.8Z" fill="#c6c6c6"/></g><g filter="url(#lb8)"><path d="M543.8,913.1C550.4,906.2 579.4,907.6 586.9,913.1C594.4,918.6 591.5,937.3 588.6,945.9C585.7,954.5 576.5,963.4 569.6,964.9C562.7,966.3 551.5,963.1 547.2,954.5C542.9,945.9 537.1,920.0 543.8,913.1Z" fill="#8d8d8d"/></g><g filter="url(#lb9)"><path d="M310.9,1002.8C318.1,994.8 338.2,1007.4 354.0,1009.7C369.8,1012.0 397.7,1011.4 405.8,1016.6C413.8,1021.8 406.3,1031.0 402.3,1040.8C398.3,1050.5 392.5,1070.1 381.6,1075.3C370.7,1080.4 348.5,1074.7 336.8,1071.8C325.0,1068.9 315.2,1069.5 310.9,1058.0C306.6,1046.5 303.7,1010.9 310.9,1002.8Z" fill="#929292"/></g><g filter="url(#lb7)"><path d="M336.8,1001.1C336.8,995.9 341.9,981.5 345.4,975.2C348.8,968.9 350.3,965.4 357.5,963.1C364.6,960.8 377.6,961.1 388.5,961.4C399.4,961.7 411.5,963.4 423.0,964.9C434.5,966.3 446.0,968.6 457.5,970.0C469.0,971.5 480.5,973.5 492.0,973.5C503.5,973.5 516.4,972.0 526.5,970.0C536.6,968.0 546.3,960.5 552.4,961.4C558.4,962.3 562.4,970.0 562.7,975.2C563.0,980.4 558.7,986.7 554.1,992.5C549.5,998.2 541.2,1005.1 535.1,1009.7C529.1,1014.3 525.1,1017.8 517.9,1020.1C510.7,1022.4 502.1,1023.2 492.0,1023.5C481.9,1023.8 471.9,1023.5 457.5,1021.8C443.1,1020.1 420.1,1015.5 405.8,1013.2C391.4,1010.9 381.3,1009.1 371.3,1008.0C361.2,1006.8 351.1,1007.4 345.4,1006.3C339.6,1005.1 336.8,1006.3 336.8,1001.1Z" fill="#808080"/><path d="M397.1,1054.6C395.1,1050.8 398.6,1036.7 402.3,1030.4C406.0,1024.1 411.8,1019.5 419.6,1016.6C427.3,1013.7 436.8,1012.9 448.9,1013.2C461.0,1013.4 479.1,1016.0 492.0,1018.3C504.9,1020.6 516.4,1023.2 526.5,1027.0C536.6,1030.7 543.8,1036.4 552.4,1040.8C561.0,1045.1 571.6,1049.7 578.3,1052.8C584.9,1056.0 590.9,1056.9 592.1,1059.7C593.2,1062.6 588.9,1067.5 585.2,1070.1C581.4,1072.7 576.5,1074.7 569.6,1075.3C562.7,1075.8 552.4,1074.7 543.8,1073.5C535.1,1072.4 526.5,1070.1 517.9,1068.4C509.3,1066.6 500.6,1064.9 492.0,1063.2C483.4,1061.5 474.8,1059.4 466.1,1058.0C457.5,1056.6 448.9,1055.4 440.3,1054.6C431.6,1053.7 421.6,1052.8 414.4,1052.8C407.2,1052.8 399.1,1058.3 397.1,1054.6Z" fill="#808080"/></g><g filter="url(#lb5)"><path d="M350.6,992.5C348.8,989.0 355.7,978.9 360.9,975.2C366.1,971.5 372.7,970.3 381.6,970.0C390.5,969.7 404.6,972.0 414.4,973.5C424.2,974.9 430.2,976.9 440.3,978.7C450.3,980.4 463.3,983.3 474.8,983.8C486.3,984.4 498.6,981.2 509.3,982.1C519.9,983.0 535.7,985.8 538.6,989.0C541.5,992.2 532.8,997.6 526.5,1001.1C520.2,1004.5 507.8,1007.4 500.6,1009.7C493.4,1012.0 489.1,1014.3 483.4,1014.9C477.6,1015.5 473.3,1015.2 466.1,1013.2C458.9,1011.1 450.3,1005.4 440.3,1002.8C430.2,1000.2 417.3,998.8 405.8,997.6C394.3,996.5 380.5,996.8 371.3,995.9C362.1,995.0 352.3,995.9 350.6,992.5Z" fill="#656565"/><path d="M431.6,1032.1C431.6,1028.7 443.1,1024.1 448.9,1021.8C454.6,1019.5 458.9,1017.5 466.1,1018.3C473.3,1019.2 483.4,1023.5 492.0,1027.0C500.6,1030.4 509.3,1035.0 517.9,1039.0C526.5,1043.1 535.4,1047.1 543.8,1051.1C552.1,1055.1 567.3,1060.3 567.9,1063.2C568.5,1066.1 554.1,1068.4 547.2,1068.4C540.3,1068.4 534.3,1065.2 526.5,1063.2C518.7,1061.2 509.3,1058.6 500.6,1056.3C492.0,1054.0 483.4,1051.7 474.8,1049.4C466.1,1047.1 456.1,1045.4 448.9,1042.5C441.7,1039.6 431.6,1035.6 431.6,1032.1Z" fill="#656565"/></g><g filter="url(#lb8)"><path d="M569.6,1216.7C559.3,1211.8 573.9,1194.3 578.3,1187.4C582.6,1180.5 588.3,1176.7 595.5,1175.3C602.7,1173.9 613.9,1175.3 621.4,1178.8C628.9,1182.2 637.2,1189.7 640.4,1196.0C643.5,1202.3 652.1,1213.3 640.4,1216.7C628.6,1220.2 580.0,1221.6 569.6,1216.7Z" fill="#808080"/></g><g filter="url(#lb2_5)"><path d="M426.5,935.5C428.8,936.5 435.4,939.6 440.3,941.6C445.1,943.6 453.2,946.6 455.8,947.6" fill="none" stroke="#d2d2d2" stroke-width="3.8" stroke-linecap="round" stroke-linejoin="round"/><path d="M473.0,1089.1C475.3,1088.5 485.1,1090.2 492.0,1090.8C498.9,1091.4 508.7,1091.1 514.4,1092.5C520.2,1093.9 522.8,1097.1 526.5,1099.4C530.2,1101.7 536.0,1103.1 536.9,1106.3C537.7,1109.5 534.0,1116.7 531.7,1118.4C529.4,1120.1 526.8,1118.1 523.1,1116.7C519.3,1115.2 514.4,1112.3 509.3,1109.8C504.1,1107.2 497.2,1103.7 492.0,1101.1C486.8,1098.5 481.4,1096.2 478.2,1094.2C475.0,1092.2 470.7,1089.6 473.0,1089.1Z" fill="#d2d2d2"/></g><g filter="url(#lb7)"><path d="M312.6,1341.5C316.6,1327.1 328.4,1353.5 336.8,1355.3C345.1,1357.0 355.2,1355.3 362.6,1351.8C370.1,1348.4 376.1,1341.2 381.6,1334.6C387.1,1327.9 391.4,1319.6 395.4,1312.1C399.4,1304.7 401.7,1296.3 405.8,1289.7C409.8,1283.1 414.4,1278.8 419.6,1272.5C424.7,1266.1 430.5,1258.1 436.8,1251.8C443.1,1245.4 449.7,1239.7 457.5,1234.5C465.3,1229.3 474.8,1225.0 483.4,1220.7C492.0,1216.4 502.1,1213.2 509.3,1208.6C516.4,1204.0 521.3,1195.7 526.5,1193.1C531.7,1190.5 538.3,1189.1 540.3,1193.1C542.3,1197.1 539.7,1209.5 538.6,1217.3C537.4,1225.0 536.0,1232.8 533.4,1239.7C530.8,1246.6 527.1,1252.9 523.1,1258.7C519.0,1264.4 514.4,1269.9 509.3,1274.2C504.1,1278.5 498.3,1281.7 492.0,1284.5C485.7,1287.4 478.2,1289.4 471.3,1291.4C464.4,1293.4 456.4,1294.0 450.6,1296.6C444.9,1299.2 440.5,1302.4 436.8,1307.0C433.1,1311.6 430.2,1317.6 428.2,1324.2C426.2,1330.8 424.4,1339.7 424.7,1346.6C425.0,1353.5 427.0,1359.6 429.9,1365.6C432.8,1371.6 437.1,1377.7 442.0,1382.9C446.9,1388.0 452.3,1392.6 459.2,1396.7C466.1,1400.7 475.0,1404.7 483.4,1407.0C491.7,1409.3 501.5,1410.7 509.3,1410.5C517.0,1410.2 527.1,1404.1 530.0,1405.3C532.8,1406.4 531.4,1414.2 526.5,1417.4C521.6,1420.5 509.3,1422.2 500.6,1424.3C492.0,1426.3 484.8,1428.0 474.8,1429.4C464.7,1430.9 451.8,1432.6 440.3,1432.9C428.8,1433.2 417.3,1431.7 405.8,1431.2C394.3,1430.6 382.8,1429.1 371.3,1429.4C359.8,1429.7 346.5,1430.9 336.8,1432.9C327.0,1434.9 316.6,1456.7 312.6,1441.5C308.6,1426.3 308.6,1355.8 312.6,1341.5Z" fill="#c6c6c6"/><path d="M605.9,1372.5C609.3,1371.9 610.2,1382.6 612.8,1389.8C615.3,1396.9 617.1,1407.0 621.4,1415.6C625.7,1424.3 634.0,1432.0 638.6,1441.5C643.2,1451.0 653.3,1467.1 649.0,1472.6C644.7,1478.0 624.5,1474.3 612.8,1474.3C601.0,1474.3 589.8,1473.1 578.3,1472.6C566.8,1472.0 552.4,1471.4 543.8,1470.8C535.1,1470.3 526.5,1472.0 526.5,1469.1C526.5,1466.2 538.0,1458.8 543.8,1453.6C549.5,1448.4 555.3,1444.4 561.0,1438.1C566.8,1431.7 573.1,1423.1 578.3,1415.6C583.4,1408.2 587.5,1400.4 592.1,1393.2C596.7,1386.0 602.4,1373.1 605.9,1372.5Z" fill="#c6c6c6"/><path d="M607.6,1312.1C607.9,1317.9 609.3,1336.6 609.3,1346.6C609.3,1356.7 607.9,1368.2 607.6,1372.5" fill="none" stroke="#b5b5b5" stroke-width="8.6" stroke-linecap="round" stroke-linejoin="round"/></g><g filter="url(#lb6)"><path d="M314.3,1272.5C316.3,1267.9 323.5,1273.0 328.1,1275.9C332.7,1278.8 339.1,1284.5 341.9,1289.7C344.8,1294.9 346.2,1301.5 345.4,1307.0C344.5,1312.4 340.2,1320.2 336.8,1322.5C333.3,1324.8 328.1,1323.9 324.7,1320.8C321.2,1317.6 317.8,1311.6 316.1,1303.5C314.3,1295.5 312.3,1277.1 314.3,1272.5Z" fill="#808080"/></g><g filter="url(#lb9)"><path d="M310.9,1260.4C318.1,1247.4 343.4,1261.8 354.0,1265.6C364.6,1269.3 371.8,1273.6 374.7,1282.8C377.6,1292.0 374.7,1310.1 371.3,1320.8C367.8,1331.4 364.1,1342.9 354.0,1346.6C343.9,1350.4 318.1,1357.6 310.9,1343.2C303.7,1328.8 303.7,1273.3 310.9,1260.4Z" fill="#929292"/></g><g filter="url(#lb6)"><path d="M509.3,1438.1C513.6,1432.9 527.7,1428.0 535.1,1424.3C542.6,1420.5 550.1,1415.3 554.1,1415.6C558.1,1415.9 560.4,1421.1 559.3,1426.0C558.1,1430.9 552.1,1439.5 547.2,1445.0C542.3,1450.4 535.4,1454.7 530.0,1458.8C524.5,1462.8 517.9,1469.7 514.4,1469.1C511.0,1468.5 510.1,1460.5 509.3,1455.3C508.4,1450.1 504.9,1443.2 509.3,1438.1Z" fill="#808080"/></g><g filter="url(#lb8)"><path d="M623.1,1193.1C626.3,1177.6 637.5,1163.2 640.4,1193.1C643.2,1223.0 642.7,1342.6 640.4,1372.5C638.1,1402.4 629.7,1386.9 626.6,1372.5C623.4,1358.1 622.0,1316.2 621.4,1286.3C620.8,1256.4 619.9,1208.6 623.1,1193.1Z" fill="#8d8d8d"/><path d="M561.0,1338.0C563.9,1325.9 574.8,1328.8 578.3,1334.6C581.7,1340.3 582.3,1360.4 581.7,1372.5C581.1,1384.6 578.3,1401.3 574.8,1407.0C571.4,1412.8 563.3,1418.5 561.0,1407.0C558.7,1395.5 558.1,1350.1 561.0,1338.0Z" fill="#929292"/></g><g filter="url(#lb6)"><path d="M631.7,1320.8C636.9,1310.7 656.2,1290.6 661.1,1312.1C665.9,1333.7 665.4,1428.6 661.1,1450.1C656.7,1471.7 640.4,1454.4 635.2,1441.5C630.0,1428.6 630.6,1392.6 630.0,1372.5C629.4,1352.4 626.6,1330.8 631.7,1320.8Z" fill="#4c4c4c"/></g><g filter="url(#lb10)"><path d="M398.9,1123.6C401.2,1118.7 403.7,1116.9 409.2,1114.9C414.7,1112.9 423.6,1111.5 431.6,1111.5C439.7,1111.5 449.7,1112.6 457.5,1114.9C465.3,1117.2 471.9,1121.0 478.2,1125.3C484.5,1129.6 490.9,1135.3 495.5,1140.8C500.1,1146.3 503.8,1152.3 505.8,1158.1C507.8,1163.8 508.4,1170.1 507.5,1175.3C506.7,1180.5 504.1,1185.1 500.6,1189.1C497.2,1193.1 492.6,1196.0 486.8,1199.5C481.1,1202.9 472.7,1206.1 466.1,1209.8C459.5,1213.5 452.9,1217.6 447.2,1221.9C441.4,1226.2 436.8,1230.8 431.6,1235.7C426.5,1240.6 421.3,1246.3 416.1,1251.2C410.9,1256.1 405.5,1261.8 400.6,1265.0C395.7,1268.2 390.8,1270.8 386.8,1270.2C382.8,1269.6 378.4,1266.2 376.4,1261.6C374.4,1257.0 374.4,1249.5 374.7,1242.6C375.0,1235.7 376.4,1227.9 378.2,1220.2C379.9,1212.4 382.8,1204.3 385.1,1196.0C387.4,1187.7 390.2,1178.8 392.0,1170.1C393.7,1161.5 394.3,1152.0 395.4,1144.3C396.6,1136.5 396.6,1128.4 398.9,1123.6Z" fill="#4c4c4c"/></g><g filter="url(#lb6)"><ellipse cx="455.8" cy="1152.9" rx="35.4" ry="26.7" transform="rotate(0 455.8 1152.9)" fill="#393939"/><ellipse cx="409.2" cy="1219.0" rx="17.3" ry="21.6" transform="rotate(35 409.2 1219.0)" fill="#393939"/></g><g filter="url(#lb4)"><ellipse cx="457.5" cy="1147.7" rx="19.0" ry="10.4" transform="rotate(-15 457.5 1147.7)" fill="#222222"/></g><g filter="url(#lb10)"><path d="M435.1,1348.4C434.8,1342.0 437.4,1336.0 440.3,1331.1C443.1,1326.2 447.2,1322.2 452.3,1319.0C457.5,1315.9 464.7,1313.6 471.3,1312.1C477.9,1310.7 485.7,1313.0 492.0,1310.4C498.3,1307.8 503.5,1301.2 509.3,1296.6C515.0,1292.0 520.8,1288.0 526.5,1282.8C532.3,1277.6 539.2,1272.2 543.8,1265.6C548.4,1258.9 551.2,1250.6 554.1,1243.1C557.0,1235.7 558.4,1226.7 561.0,1220.7C563.6,1214.7 563.9,1208.1 569.6,1206.9C575.4,1205.8 590.6,1207.8 595.5,1213.8C600.4,1219.8 599.5,1233.9 599.0,1243.1C598.4,1252.3 594.9,1261.2 592.1,1269.0C589.2,1276.8 585.7,1282.8 581.7,1289.7C577.7,1296.6 572.5,1304.7 567.9,1310.4C563.3,1316.2 557.6,1319.6 554.1,1324.2C550.7,1328.8 549.2,1332.8 547.2,1338.0C545.2,1343.2 544.3,1349.5 542.0,1355.3C539.7,1361.0 537.1,1367.6 533.4,1372.5C529.7,1377.4 525.1,1381.4 519.6,1384.6C514.1,1387.7 507.5,1390.3 500.6,1391.5C493.7,1392.6 485.4,1392.6 478.2,1391.5C471.0,1390.3 463.5,1388.3 457.5,1384.6C451.5,1380.8 445.7,1375.1 442.0,1369.1C438.2,1363.0 435.4,1354.7 435.1,1348.4Z" fill="#4c4c4c"/></g><g filter="url(#lb6)"><ellipse cx="492.0" cy="1351.8" rx="42.3" ry="28.5" transform="rotate(0 492.0 1351.8)" fill="#393939"/><ellipse cx="566.2" cy="1260.4" rx="18.1" ry="41.4" transform="rotate(15 566.2 1260.4)" fill="#393939"/></g><g filter="url(#lb4)"><ellipse cx="478.2" cy="1357.0" rx="16.4" ry="11.2" transform="rotate(0 478.2 1357.0)" fill="#2f2f2f"/></g><g filter="url(#lb8)"><path d="M329.9,1493.3C302.0,1486.9 330.7,1463.4 333.3,1455.3C335.9,1447.3 339.1,1447.3 345.4,1445.0C351.7,1442.7 361.2,1441.8 371.3,1441.5C381.3,1441.2 394.3,1442.4 405.8,1443.2C417.3,1444.1 428.8,1446.1 440.3,1446.7C451.8,1447.3 463.3,1447.5 474.8,1446.7C486.3,1445.8 500.1,1442.9 509.3,1441.5C518.5,1440.1 525.6,1436.6 530.0,1438.1C534.3,1439.5 536.3,1445.8 535.1,1450.1C534.0,1454.4 527.4,1459.6 523.1,1463.9C518.7,1468.2 513.0,1471.1 509.3,1476.0C505.5,1480.9 530.5,1490.4 500.6,1493.3C470.7,1496.1 357.7,1499.6 329.9,1493.3Z" fill="#4c4c4c"/></g><g filter="url(#lb6)"><ellipse cx="419.6" cy="1462.2" rx="58.7" ry="10.4" transform="rotate(0 419.6 1462.2)" fill="#393939"/></g><g filter="url(#lb4)"><path d="M388.5,1493.3C376.1,1490.4 389.9,1479.5 397.1,1476.0C404.3,1472.6 420.1,1472.6 431.6,1472.6C443.1,1472.6 459.5,1472.6 466.1,1476.0C472.7,1479.5 484.2,1490.4 471.3,1493.3C458.4,1496.1 400.9,1496.1 388.5,1493.3Z" fill="#141414"/></g><g filter="url(#lb6)"><path d="M423.0,1286.3C420.1,1283.1 427.9,1271.9 431.6,1265.6C435.4,1259.2 440.0,1253.5 445.4,1248.3C450.9,1243.1 457.8,1238.5 464.4,1234.5C471.0,1230.5 478.2,1227.3 485.1,1224.2C492.0,1221.0 500.1,1218.4 505.8,1215.5C511.6,1212.7 515.6,1209.5 519.6,1206.9C523.6,1204.3 527.9,1198.8 530.0,1200.0C532.0,1201.2 532.0,1208.6 531.7,1213.8C531.4,1219.0 530.2,1225.3 528.2,1231.1C526.2,1236.8 523.1,1242.8 519.6,1248.3C516.2,1253.8 512.1,1259.5 507.5,1263.8C502.9,1268.1 498.0,1271.3 492.0,1274.2C486.0,1277.1 478.5,1279.4 471.3,1281.1C464.1,1282.8 456.9,1283.7 448.9,1284.5C440.8,1285.4 425.9,1289.4 423.0,1286.3Z" fill="#e6e6e6"/></g><g filter="url(#lb3)"><path d="M421.3,1289.7C419.6,1293.7 413.8,1307.0 410.9,1313.9C408.1,1320.8 405.8,1324.2 404.0,1331.1C402.3,1338.0 401.7,1346.9 400.6,1355.3C399.4,1363.6 397.7,1376.8 397.1,1381.1" fill="none" stroke="#d2d2d2" stroke-width="9.5" stroke-linecap="round" stroke-linejoin="round"/></g><g filter="url(#lb2_5)"><path d="M392.0,1381.1C394.8,1380.8 401.2,1384.0 405.8,1386.3C410.4,1388.6 415.2,1391.8 419.6,1394.9C423.9,1398.1 428.2,1401.8 431.6,1405.3C435.1,1408.7 441.1,1413.9 440.3,1415.6C439.4,1417.4 431.1,1416.2 426.5,1415.6C421.9,1415.1 417.3,1414.2 412.7,1412.2C408.1,1410.2 402.9,1405.9 398.9,1403.6C394.8,1401.3 390.2,1401.0 388.5,1398.4C386.8,1395.8 387.9,1390.9 388.5,1388.0C389.1,1385.2 389.1,1381.4 392.0,1381.1Z" fill="#d2d2d2"/></g><g filter="url(#lb3)"><path d="M453.2,1264.7C452.3,1262.4 455.1,1256.6 457.5,1253.5C459.9,1250.4 463.5,1248.3 467.9,1246.2C472.2,1244.2 477.8,1242.7 483.4,1241.1C489.0,1239.4 497.9,1236.2 501.5,1236.6C505.1,1236.9 505.2,1240.5 504.9,1243.1C504.7,1245.7 502.5,1249.4 499.8,1252.1C497.0,1254.8 492.7,1257.4 488.6,1259.5C484.4,1261.6 479.1,1263.4 474.8,1264.7C470.4,1266.0 466.3,1267.3 462.7,1267.3C459.1,1267.3 454.1,1267.0 453.2,1264.7Z" fill="#ffffff"/></g><polygon points="298.00,1484.00 289.30,102.30 323.30,72.30 332.00,1514.00" fill="url(#lwl)" style="mix-blend-mode:darken"/><polygon points="289.30,102.30 650.30,100.20 680.30,122.20 259.30,124.30" fill="url(#lwt)" style="mix-blend-mode:darken"/><polygon points="650.30,100.20 658.80,1481.50 624.80,1511.50 616.30,70.20" fill="url(#lwr)" style="mix-blend-mode:darken"/><polygon points="658.80,1481.50 298.00,1484.00 268.00,1462.00 688.80,1459.50" fill="url(#lwb)" style="mix-blend-mode:darken"/></g></g></g>
<g filter="url(#redge)"><g clip-path="url(#rclip)"><g filter="url(#rcmap)" style="isolation:isolate"><rect x="1270" y="40" width="1174" height="1440" fill="#dddddd"/><path d="M1280,60 L1600,60 L1800,80 L1950,95 L2044.0,102.4C2040.0,106.6 2031.3,119.3 2020.3,127.8C2009.3,136.3 1992.1,144.0 1978.0,153.2C1963.9,162.4 1948.3,173.0 1935.6,182.9C1922.9,192.8 1910.2,200.5 1901.7,212.5C1893.2,224.5 1887.9,240.8 1884.7,254.9C1881.5,269.0 1881.1,276.1 1882.5,297.3C1883.9,318.5 1889.7,353.8 1893.2,382.0C1896.7,410.2 1900.3,438.6 1903.4,466.8C1906.5,495.1 1910.1,520.4 1911.9,551.5C1913.7,582.6 1913.3,615.1 1914.4,653.2C1915.5,691.3 1917.5,737.9 1918.6,780.3C1919.7,822.7 1921.2,872.2 1921.2,907.5C1921.2,942.8 1920.1,971.0 1918.6,992.2C1917.0,1013.4 1913.6,1013.4 1911.9,1034.6C1910.2,1055.8 1910.2,1091.1 1908.5,1119.3C1906.8,1147.5 1903.1,1180.0 1901.7,1204.0C1900.3,1228.0 1898.6,1246.4 1900.0,1263.4C1901.4,1280.4 1902.9,1291.7 1910.2,1305.8C1917.5,1319.9 1928.5,1335.3 1944.0,1348.0C1959.5,1360.7 1983.6,1372.1 2003.4,1382.0C2023.2,1391.9 2050.0,1401.2 2062.7,1407.5C2075.4,1413.8 2076.9,1417.9 2079.7,1420.0 L2020,1428 L1808.5,1440 L1600,1460 L1280,1460 Z" fill="#ebebeb"/><path d="M1444.0,80.0 L1533.0,80.0 L1562.7,110.8 L1579.7,229.5 L1598.3,339.7 L1600.8,382.0 L1613.6,526.0 L1622.0,695.6 L1626.3,822.7 L1626.3,992.2 L1623.7,1119.3 L1615.3,1170.0 L1609.3,1246.4 L1596.6,1356.6 L1590.0,1408.0 L1571.0,1432.0 L1560.0,1440.0 L1445.0,1440.0 L1433.0,1420.0 L1431.4,1246.0 L1435.6,738.0 L1435.6,144.7 L1437.0,100.0Z" fill="#f8f8f8" stroke="#f8f8f8" stroke-width="6" stroke-linejoin="round"/><polygon points="1305.50,1450.50 1297.00,72.50 1447.00,42.50 1455.50,1480.50" fill="url(#rwl)" style="mix-blend-mode:darken"/><polygon points="1297.00,72.50 2412.00,67.50 2442.00,93.50 1267.00,98.50" fill="url(#rwt)" style="mix-blend-mode:darken"/><polygon points="2412.00,67.50 2420.00,1447.50 2394.00,1477.50 2386.00,37.50" fill="url(#rwr)" style="mix-blend-mode:darken"/><polygon points="2420.00,1447.50 1305.50,1450.50 1275.50,1424.50 2450.00,1421.50" fill="url(#rwb)" style="mix-blend-mode:darken"/></g></g></g>
<rect x="0" y="233" width="295.7" height="520" fill="#fff"/>
<g filter="url(#soft1)"><rect x="38.4" y="249.50" width="65.50" height="48.28" fill="#ff1c00"/><rect x="38.4" y="297.18" width="65.50" height="48.28" fill="#ff6400"/><rect x="38.4" y="344.87" width="65.50" height="48.28" fill="#ff9b00"/><rect x="38.4" y="392.55" width="65.50" height="48.28" fill="#ffc800"/><rect x="38.4" y="440.24" width="65.50" height="48.28" fill="#fff500"/><rect x="38.4" y="487.92" width="65.50" height="48.28" fill="#e1ff00"/><rect x="38.4" y="535.61" width="65.50" height="48.28" fill="#b9ff00"/><rect x="38.4" y="583.29" width="65.50" height="48.28" fill="#91ff00"/><rect x="38.4" y="630.97" width="65.50" height="48.28" fill="#5fff00"/><rect x="38.4" y="678.66" width="65.50" height="48.28" fill="#00fa00"/><rect x="38.4" y="726.34" width="65.50" height="48.28" fill="#00fa5f"/><rect x="38.4" y="774.03" width="65.50" height="48.28" fill="#00fc96"/><rect x="38.4" y="821.71" width="65.50" height="48.28" fill="#00ffc3"/><rect x="38.4" y="869.39" width="65.50" height="48.28" fill="#00ffe6"/><rect x="38.4" y="917.08" width="65.50" height="48.28" fill="#00f0ff"/><rect x="38.4" y="964.76" width="65.50" height="48.28" fill="#00c8ff"/><rect x="38.4" y="1012.45" width="65.50" height="48.28" fill="#0096ff"/><rect x="38.4" y="1060.13" width="65.50" height="48.28" fill="#0064ff"/><rect x="38.4" y="1107.82" width="65.50" height="48.28" fill="#001cff"/><rect x="40.9" y="252.0" width="60.50" height="901.00" fill="none" stroke="rgba(110,110,110,0.55)" stroke-width="5"/><rect x="103.9" y="248.00" width="11.10" height="3.4" fill="#c4c4c4"/><rect x="103.9" y="295.68" width="11.10" height="3.4" fill="#c4c4c4"/><rect x="103.9" y="343.37" width="11.10" height="3.4" fill="#c4c4c4"/><rect x="103.9" y="391.05" width="11.10" height="3.4" fill="#c4c4c4"/><rect x="103.9" y="438.74" width="11.10" height="3.4" fill="#c4c4c4"/><rect x="103.9" y="486.42" width="11.10" height="3.4" fill="#c4c4c4"/><rect x="103.9" y="534.11" width="11.10" height="3.4" fill="#c4c4c4"/><rect x="103.9" y="581.79" width="11.10" height="3.4" fill="#c4c4c4"/><rect x="103.9" y="629.47" width="11.10" height="3.4" fill="#c4c4c4"/><rect x="103.9" y="677.16" width="11.10" height="3.4" fill="#c4c4c4"/><rect x="103.9" y="724.84" width="11.10" height="3.4" fill="#c4c4c4"/><rect x="103.9" y="772.53" width="11.10" height="3.4" fill="#c4c4c4"/><rect x="103.9" y="820.21" width="11.10" height="3.4" fill="#c4c4c4"/><rect x="103.9" y="867.89" width="11.10" height="3.4" fill="#c4c4c4"/><rect x="103.9" y="915.58" width="11.10" height="3.4" fill="#c4c4c4"/><rect x="103.9" y="963.26" width="11.10" height="3.4" fill="#c4c4c4"/><rect x="103.9" y="1010.95" width="11.10" height="3.4" fill="#c4c4c4"/><rect x="103.9" y="1058.63" width="11.10" height="3.4" fill="#c4c4c4"/><rect x="103.9" y="1106.32" width="11.10" height="3.4" fill="#c4c4c4"/><rect x="103.9" y="1154.00" width="11.10" height="3.4" fill="#c4c4c4"/></g>
<rect x="41.4" y="245.6" width="62.5" height="1.2" fill="#50ff32"/><rect x="107" y="255" width="1.1" height="37" fill="#50ff32"/>
<g clip-path="url(#fragclip)" fill="none" stroke="#3a3a3a" stroke-width="3.2"><ellipse cx="279.2" cy="350.5" rx="11.5" ry="19"/><ellipse cx="279.5" cy="729" rx="11.5" ry="13"/></g>
<g filter="url(#soft1)"><rect x="1038" y="167.50" width="69.20" height="51.13" fill="#ff1c00"/><rect x="1038" y="218.03" width="69.20" height="51.13" fill="#ff6400"/><rect x="1038" y="268.55" width="69.20" height="51.13" fill="#ff9b00"/><rect x="1038" y="319.08" width="69.20" height="51.13" fill="#ffc800"/><rect x="1038" y="369.61" width="69.20" height="51.13" fill="#fff500"/><rect x="1038" y="420.13" width="69.20" height="51.13" fill="#e1ff00"/><rect x="1038" y="470.66" width="69.20" height="51.13" fill="#b9ff00"/><rect x="1038" y="521.18" width="69.20" height="51.13" fill="#91ff00"/><rect x="1038" y="571.71" width="69.20" height="51.13" fill="#5fff00"/><rect x="1038" y="622.24" width="69.20" height="51.13" fill="#00fa00"/><rect x="1038" y="672.76" width="69.20" height="51.13" fill="#00fa5f"/><rect x="1038" y="723.29" width="69.20" height="51.13" fill="#00fc96"/><rect x="1038" y="773.82" width="69.20" height="51.13" fill="#00ffc3"/><rect x="1038" y="824.34" width="69.20" height="51.13" fill="#00ffe6"/><rect x="1038" y="874.87" width="69.20" height="51.13" fill="#00f0ff"/><rect x="1038" y="925.39" width="69.20" height="51.13" fill="#00c8ff"/><rect x="1038" y="975.92" width="69.20" height="51.13" fill="#0096ff"/><rect x="1038" y="1026.45" width="69.20" height="51.13" fill="#0064ff"/><rect x="1038" y="1076.97" width="69.20" height="51.13" fill="#001cff"/><rect x="1040.0" y="169.5" width="65.20" height="956.00" fill="none" stroke="rgba(110,110,110,0.35)" stroke-width="4"/><rect x="1037" y="166.5" width="71.20" height="962.00" fill="none" stroke="#c9c9c9" stroke-width="2"/><rect x="1107.2" y="166.00" width="10.80" height="3.4" fill="#c8cccc"/><rect x="1107.2" y="216.53" width="10.80" height="3.4" fill="#c8cccc"/><rect x="1107.2" y="267.05" width="10.80" height="3.4" fill="#c8cccc"/><rect x="1107.2" y="317.58" width="10.80" height="3.4" fill="#c8cccc"/><rect x="1107.2" y="368.11" width="10.80" height="3.4" fill="#c8cccc"/><rect x="1107.2" y="418.63" width="10.80" height="3.4" fill="#c8cccc"/><rect x="1107.2" y="469.16" width="10.80" height="3.4" fill="#c8cccc"/><rect x="1107.2" y="519.68" width="10.80" height="3.4" fill="#c8cccc"/><rect x="1107.2" y="570.21" width="10.80" height="3.4" fill="#c8cccc"/><rect x="1107.2" y="620.74" width="10.80" height="3.4" fill="#c8cccc"/><rect x="1107.2" y="671.26" width="10.80" height="3.4" fill="#c8cccc"/><rect x="1107.2" y="721.79" width="10.80" height="3.4" fill="#c8cccc"/><rect x="1107.2" y="772.32" width="10.80" height="3.4" fill="#c8cccc"/><rect x="1107.2" y="822.84" width="10.80" height="3.4" fill="#c8cccc"/><rect x="1107.2" y="873.37" width="10.80" height="3.4" fill="#c8cccc"/><rect x="1107.2" y="923.89" width="10.80" height="3.4" fill="#c8cccc"/><rect x="1107.2" y="974.42" width="10.80" height="3.4" fill="#c8cccc"/><rect x="1107.2" y="1024.95" width="10.80" height="3.4" fill="#c8cccc"/><rect x="1107.2" y="1075.47" width="10.80" height="3.4" fill="#c8cccc"/><rect x="1107.2" y="1126.00" width="10.80" height="3.4" fill="#c8cccc"/></g>
<text transform="translate(36.72 162.60) scale(0.9857 1)" font-family="&quot;Liberation Sans&quot;, sans-serif" font-weight="normal" font-size="56.00" fill="#000" stroke="#000" stroke-width="0.5">Velocity</text>
<text transform="translate(25.66 215.00) scale(0.9412 1)" font-family="&quot;Liberation Sans&quot;, sans-serif" font-weight="normal" font-size="56.14" fill="#000" stroke="#000" stroke-width="0.5">Contour 1</text>
<text transform="translate(131.82 274.50) scale(0.9916 1)" font-family="&quot;Liberation Sans&quot;, sans-serif" font-weight="normal" font-size="56.00" fill="#1a1a1a" stroke="#1a1a1a" stroke-width="0.9">23.60</text>
<text transform="translate(131.82 322.19) scale(0.9936 1)" font-family="&quot;Liberation Sans&quot;, sans-serif" font-weight="normal" font-size="56.00" fill="#1a1a1a" stroke="#1a1a1a" stroke-width="0.9">22.35</text>
<text transform="translate(131.72 369.88) scale(1.0277 1)" font-family="&quot;Liberation Sans&quot;, sans-serif" font-weight="normal" font-size="56.00" fill="#1a1a1a" stroke="#1a1a1a" stroke-width="0.9">21.11</text>
<text transform="translate(130.37 417.57) scale(1.0083 1)" font-family="&quot;Liberation Sans&quot;, sans-serif" font-weight="normal" font-size="56.00" fill="#1a1a1a" stroke="#1a1a1a" stroke-width="0.9">19.87</text>
<text transform="translate(130.38 465.26) scale(1.0040 1)" font-family="&quot;Liberation Sans&quot;, sans-serif" font-weight="normal" font-size="56.00" fill="#1a1a1a" stroke="#1a1a1a" stroke-width="0.9">18.63</text>
<text transform="translate(130.38 512.95) scale(1.0040 1)" font-family="&quot;Liberation Sans&quot;, sans-serif" font-weight="normal" font-size="56.00" fill="#1a1a1a" stroke="#1a1a1a" stroke-width="0.9">17.38</text>
<text transform="translate(130.41 560.64) scale(0.9978 1)" font-family="&quot;Liberation Sans&quot;, sans-serif" font-weight="normal" font-size="56.00" fill="#1a1a1a" stroke="#1a1a1a" stroke-width="0.9">16.14</text>
<text transform="translate(130.39 608.33) scale(1.0019 1)" font-family="&quot;Liberation Sans&quot;, sans-serif" font-weight="normal" font-size="56.00" fill="#1a1a1a" stroke="#1a1a1a" stroke-width="0.9">14.90</text>
<text transform="translate(130.38 656.02) scale(1.0040 1)" font-family="&quot;Liberation Sans&quot;, sans-serif" font-weight="normal" font-size="56.00" fill="#1a1a1a" stroke="#1a1a1a" stroke-width="0.9">13.66</text>
<text transform="translate(130.37 703.71) scale(1.0083 1)" font-family="&quot;Liberation Sans&quot;, sans-serif" font-weight="normal" font-size="56.00" fill="#1a1a1a" stroke="#1a1a1a" stroke-width="0.9">12.42</text>
<text transform="translate(130.24 751.40) scale(1.0240 1)" font-family="&quot;Liberation Sans&quot;, sans-serif" font-weight="normal" font-size="56.81" fill="#1a1a1a" stroke="#1a1a1a" stroke-width="0.9">11.17</text>
<text transform="translate(132.09 799.09) scale(0.9944 1)" font-family="&quot;Liberation Sans&quot;, sans-serif" font-weight="normal" font-size="56.00" fill="#1a1a1a" stroke="#1a1a1a" stroke-width="0.9">9.93</text>
<text transform="translate(132.09 846.78) scale(0.9944 1)" font-family="&quot;Liberation Sans&quot;, sans-serif" font-weight="normal" font-size="56.00" fill="#1a1a1a" stroke="#1a1a1a" stroke-width="0.9">8.69</text>
<text transform="translate(131.82 894.47) scale(0.9802 1)" font-family="&quot;Liberation Sans&quot;, sans-serif" font-weight="normal" font-size="56.81" fill="#1a1a1a" stroke="#1a1a1a" stroke-width="0.9">7.45</text>
<text transform="translate(131.80 942.16) scale(0.9998 1)" font-family="&quot;Liberation Sans&quot;, sans-serif" font-weight="normal" font-size="56.00" fill="#1a1a1a" stroke="#1a1a1a" stroke-width="0.9">6.21</text>
<text transform="translate(133.22 989.85) scale(0.9838 1)" font-family="&quot;Liberation Sans&quot;, sans-serif" font-weight="normal" font-size="56.00" fill="#1a1a1a" stroke="#1a1a1a" stroke-width="0.9">4.96</text>
<text transform="translate(132.37 1037.54) scale(0.9944 1)" font-family="&quot;Liberation Sans&quot;, sans-serif" font-weight="normal" font-size="56.00" fill="#1a1a1a" stroke="#1a1a1a" stroke-width="0.9">3.72</text>
<text transform="translate(131.82 1085.23) scale(0.9944 1)" font-family="&quot;Liberation Sans&quot;, sans-serif" font-weight="normal" font-size="56.00" fill="#1a1a1a" stroke="#1a1a1a" stroke-width="0.9">2.48</text>
<text transform="translate(130.39 1132.92) scale(1.0025 1)" font-family="&quot;Liberation Sans&quot;, sans-serif" font-weight="normal" font-size="56.00" fill="#1a1a1a" stroke="#1a1a1a" stroke-width="0.9">1.24</text>
<text transform="translate(132.38 1180.61) scale(0.9891 1)" font-family="&quot;Liberation Sans&quot;, sans-serif" font-weight="normal" font-size="56.00" fill="#1a1a1a" stroke="#1a1a1a" stroke-width="0.9">0.00</text>
<text transform="translate(44.06 1242.70) scale(1.0256 1)" font-family="&quot;Liberation Sans&quot;, sans-serif" font-weight="normal" font-size="53.52" fill="#000" stroke="#000" stroke-width="0.5">[m s-1]</text>
<text transform="translate(1038.67 75.80) scale(0.9885 1)" font-family="&quot;Liberation Sans&quot;, sans-serif" font-weight="normal" font-size="67.00" fill="#000" stroke="#000" stroke-width="0.5">Velocity</text>
<text transform="translate(1043.49 129.60) scale(0.9734 1)" font-family="&quot;Liberation Sans&quot;, sans-serif" font-weight="normal" font-size="49.57" fill="#000" stroke="#000" stroke-width="0.5">Contour 1</text>
<text transform="translate(1140.97 193.10) scale(0.9547 1)" font-family="&quot;Liberation Sans&quot;, sans-serif" font-weight="normal" font-size="58.29" fill="#000" stroke="#000" stroke-width="0.7">3.39</text>
<text transform="translate(1140.97 243.38) scale(0.9573 1)" font-family="&quot;Liberation Sans&quot;, sans-serif" font-weight="normal" font-size="58.29" fill="#000" stroke="#000" stroke-width="0.7">3.21</text>
<text transform="translate(1140.97 293.66) scale(0.9547 1)" font-family="&quot;Liberation Sans&quot;, sans-serif" font-weight="normal" font-size="58.29" fill="#000" stroke="#000" stroke-width="0.7">3.03</text>
<text transform="translate(1140.41 343.94) scale(0.9573 1)" font-family="&quot;Liberation Sans&quot;, sans-serif" font-weight="normal" font-size="58.29" fill="#000" stroke="#000" stroke-width="0.7">2.85</text>
<text transform="translate(1140.40 394.22) scale(0.9625 1)" font-family="&quot;Liberation Sans&quot;, sans-serif" font-weight="normal" font-size="58.29" fill="#000" stroke="#000" stroke-width="0.7">2.67</text>
<text transform="translate(1140.40 444.50) scale(0.9599 1)" font-family="&quot;Liberation Sans&quot;, sans-serif" font-weight="normal" font-size="58.29" fill="#000" stroke="#000" stroke-width="0.7">2.49</text>
<text transform="translate(1140.40 494.78) scale(0.9625 1)" font-family="&quot;Liberation Sans&quot;, sans-serif" font-weight="normal" font-size="58.29" fill="#000" stroke="#000" stroke-width="0.7">2.32</text>
<text transform="translate(1140.43 545.06) scale(0.9521 1)" font-family="&quot;Liberation Sans&quot;, sans-serif" font-weight="normal" font-size="58.29" fill="#000" stroke="#000" stroke-width="0.7">2.14</text>
<text transform="translate(1138.95 595.34) scale(0.9730 1)" font-family="&quot;Liberation Sans&quot;, sans-serif" font-weight="normal" font-size="58.29" fill="#000" stroke="#000" stroke-width="0.7">1.96</text>
<text transform="translate(1138.96 645.62) scale(0.9703 1)" font-family="&quot;Liberation Sans&quot;, sans-serif" font-weight="normal" font-size="58.29" fill="#000" stroke="#000" stroke-width="0.7">1.78</text>
<text transform="translate(1138.96 695.90) scale(0.9703 1)" font-family="&quot;Liberation Sans&quot;, sans-serif" font-weight="normal" font-size="58.29" fill="#000" stroke="#000" stroke-width="0.7">1.60</text>
<text transform="translate(1138.93 746.18) scale(0.9757 1)" font-family="&quot;Liberation Sans&quot;, sans-serif" font-weight="normal" font-size="58.29" fill="#000" stroke="#000" stroke-width="0.7">1.42</text>
<text transform="translate(1138.98 796.46) scale(0.9651 1)" font-family="&quot;Liberation Sans&quot;, sans-serif" font-weight="normal" font-size="58.29" fill="#000" stroke="#000" stroke-width="0.7">1.24</text>
<text transform="translate(1138.93 846.74) scale(0.9757 1)" font-family="&quot;Liberation Sans&quot;, sans-serif" font-weight="normal" font-size="58.29" fill="#000" stroke="#000" stroke-width="0.7">1.07</text>
<text transform="translate(1140.97 897.02) scale(0.9547 1)" font-family="&quot;Liberation Sans&quot;, sans-serif" font-weight="normal" font-size="58.29" fill="#000" stroke="#000" stroke-width="0.7">0.89</text>
<text transform="translate(1140.97 947.30) scale(0.9573 1)" font-family="&quot;Liberation Sans&quot;, sans-serif" font-weight="normal" font-size="58.29" fill="#000" stroke="#000" stroke-width="0.7">0.71</text>
<text transform="translate(1140.97 997.58) scale(0.9547 1)" font-family="&quot;Liberation Sans&quot;, sans-serif" font-weight="normal" font-size="58.29" fill="#000" stroke="#000" stroke-width="0.7">0.53</text>
<text transform="translate(1140.98 1047.86) scale(0.9521 1)" font-family="&quot;Liberation Sans&quot;, sans-serif" font-weight="normal" font-size="58.29" fill="#000" stroke="#000" stroke-width="0.7">0.35</text>
<text transform="translate(1140.97 1098.14) scale(0.9573 1)" font-family="&quot;Liberation Sans&quot;, sans-serif" font-weight="normal" font-size="58.29" fill="#000" stroke="#000" stroke-width="0.7">0.17</text>
<text transform="translate(1140.98 1148.42) scale(0.9521 1)" font-family="&quot;Liberation Sans&quot;, sans-serif" font-weight="normal" font-size="58.29" fill="#000" stroke="#000" stroke-width="0.7">0.00</text>
<text transform="translate(1055.56 1225.40) scale(1.0003 1)" font-family="&quot;Liberation Sans&quot;, sans-serif" font-weight="normal" font-size="56.28" fill="#000" stroke="#000" stroke-width="0.5">[m s-1]</text>
<text transform="translate(107.31 1639.30) scale(1.0175 1)" font-family="&quot;Liberation Serif&quot;, serif" font-weight="normal" font-size="74.00" fill="#000">(</text><text transform="translate(131.80 1639.30) scale(0.9474 1)" font-family="&quot;Liberation Serif&quot;, serif" font-weight="bold" font-size="74.00" fill="#000">a</text><text transform="translate(168.95 1639.30) scale(0.9667 1)" font-family="&quot;Liberation Serif&quot;, serif" font-weight="normal" font-size="74.00" fill="#000">)</text> <text transform="translate(208.47 1639.30) scale(1.0867 1)" font-family="&quot;Liberation Serif&quot;, serif" font-weight="normal" font-size="74.00" fill="#000">Static</text> <text transform="translate(411.37 1639.30) scale(1.0998 1)" font-family="&quot;Liberation Serif&quot;, serif" font-weight="normal" font-size="74.00" fill="#000">mixer</text> <text transform="translate(617.81 1639.30) scale(1.0193 1)" font-family="&quot;Liberation Serif&quot;, serif" font-weight="normal" font-size="74.00" fill="#000">1</text> <text transform="translate(173.43 1747.00) scale(1.1484 1)" font-family="&quot;Liberation Serif&quot;, serif" font-weight="normal" font-size="74.00" fill="#000">downstream</text>
<text transform="translate(1404.45 1638.70) scale(0.9751 1)" font-family="&quot;Liberation Serif&quot;, serif" font-weight="normal" font-size="74.00" fill="#000">(</text><text transform="translate(1432.08 1638.70) scale(1.0054 1)" font-family="&quot;Liberation Serif&quot;, serif" font-weight="bold" font-size="74.00" fill="#000">b</text><text transform="translate(1473.45 1638.70) scale(1.0135 1)" font-family="&quot;Liberation Serif&quot;, serif" font-weight="normal" font-size="74.00" fill="#000">)</text> <text transform="translate(1514.98 1638.70) scale(1.1200 1)" font-family="&quot;Liberation Serif&quot;, serif" font-weight="normal" font-size="74.00" fill="#000">Catalyst</text> <text transform="translate(1807.36 1638.70) scale(1.1071 1)" font-family="&quot;Liberation Serif&quot;, serif" font-weight="normal" font-size="74.00" fill="#000">layer</text> <text transform="translate(1993.58 1638.70) scale(1.0950 1)" font-family="&quot;Liberation Serif&quot;, serif" font-weight="normal" font-size="74.00" fill="#000">inlet</text>

</svg>
</body></html>
